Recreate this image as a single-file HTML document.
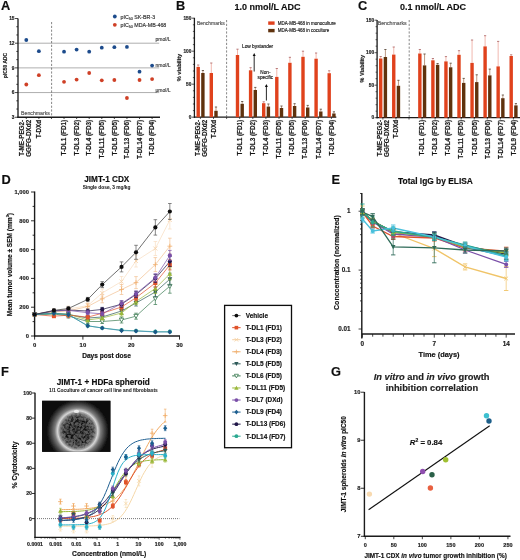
<!DOCTYPE html>
<html><head><meta charset="utf-8"><style>
html,body{margin:0;padding:0;background:#fff;width:520px;height:560px;overflow:hidden;}
svg{display:block;}
text{font-family:"Liberation Sans", sans-serif;}
</style></head><body>
<svg width="520" height="560" viewBox="0 0 520 560">
<defs><filter id="gblur" x="0" y="0" width="1" height="1"><feGaussianBlur stdDeviation="0.3"/></filter></defs>
<rect width="520" height="560" fill="#fff"/>
<g filter="url(#gblur)">
<text x="1.00" y="9.90" text-anchor="start" fill="#111" style="font-size:12.8px;font-weight:bold;stroke:#111;stroke-width:0.16px;" >A</text>
<line x1="18.00" y1="43.19" x2="159.20" y2="43.19" stroke="#999" stroke-width="0.8" />
<line x1="18.00" y1="67.88" x2="159.20" y2="67.88" stroke="#999" stroke-width="0.8" />
<line x1="18.00" y1="92.57" x2="159.20" y2="92.57" stroke="#999" stroke-width="0.8" />
<text x="170.60" y="41.40" text-anchor="end" fill="#444" style="font-size:5.0px;font-weight:normal;stroke:#444;stroke-width:0.16px;" >pmol/L</text>
<text x="170.60" y="66.70" text-anchor="end" fill="#444" style="font-size:5.0px;font-weight:normal;stroke:#444;stroke-width:0.16px;" >nmol/L</text>
<text x="170.60" y="91.50" text-anchor="end" fill="#444" style="font-size:5.0px;font-weight:normal;stroke:#444;stroke-width:0.16px;" >μmol/L</text>
<line x1="18.00" y1="18.40" x2="18.00" y2="117.90" stroke="#1a1a1a" stroke-width="1.35" />
<line x1="17.40" y1="117.20" x2="160.00" y2="117.20" stroke="#1a1a1a" stroke-width="1.35" />
<line x1="15.00" y1="117.26" x2="18.00" y2="117.26" stroke="#1a1a1a" stroke-width="0.8" />
<line x1="16.30" y1="109.03" x2="18.00" y2="109.03" stroke="#1a1a1a" stroke-width="0.8" />
<line x1="16.30" y1="100.80" x2="18.00" y2="100.80" stroke="#1a1a1a" stroke-width="0.8" />
<line x1="15.00" y1="92.57" x2="18.00" y2="92.57" stroke="#1a1a1a" stroke-width="0.8" />
<line x1="16.30" y1="84.34" x2="18.00" y2="84.34" stroke="#1a1a1a" stroke-width="0.8" />
<line x1="16.30" y1="76.11" x2="18.00" y2="76.11" stroke="#1a1a1a" stroke-width="0.8" />
<line x1="15.00" y1="67.88" x2="18.00" y2="67.88" stroke="#1a1a1a" stroke-width="0.8" />
<line x1="16.30" y1="59.65" x2="18.00" y2="59.65" stroke="#1a1a1a" stroke-width="0.8" />
<line x1="16.30" y1="51.42" x2="18.00" y2="51.42" stroke="#1a1a1a" stroke-width="0.8" />
<line x1="15.00" y1="43.19" x2="18.00" y2="43.19" stroke="#1a1a1a" stroke-width="0.8" />
<line x1="16.30" y1="34.96" x2="18.00" y2="34.96" stroke="#1a1a1a" stroke-width="0.8" />
<line x1="16.30" y1="26.73" x2="18.00" y2="26.73" stroke="#1a1a1a" stroke-width="0.8" />
<line x1="15.00" y1="18.50" x2="18.00" y2="18.50" stroke="#1a1a1a" stroke-width="0.8" />
<text x="14.50" y="20.20" text-anchor="end" fill="#1a1a1a" style="font-size:4.8px;font-weight:bold;stroke:#1a1a1a;stroke-width:0.16px;" >15</text>
<text x="14.50" y="44.89" text-anchor="end" fill="#1a1a1a" style="font-size:4.8px;font-weight:bold;stroke:#1a1a1a;stroke-width:0.16px;" >12</text>
<text x="14.50" y="69.58" text-anchor="end" fill="#1a1a1a" style="font-size:4.8px;font-weight:bold;stroke:#1a1a1a;stroke-width:0.16px;" >9</text>
<text x="14.50" y="94.27" text-anchor="end" fill="#1a1a1a" style="font-size:4.8px;font-weight:bold;stroke:#1a1a1a;stroke-width:0.16px;" >6</text>
<text x="14.50" y="118.96" text-anchor="end" fill="#1a1a1a" style="font-size:4.8px;font-weight:bold;stroke:#1a1a1a;stroke-width:0.16px;" >3</text>
<text transform="translate(7.40,65.50) rotate(-90)" text-anchor="middle" fill="#1a1a1a" style="font-size:4.9px;font-weight:bold;stroke:#1a1a1a;stroke-width:0.16px;" >pIC50 ADC</text>
<line x1="51.60" y1="22.00" x2="51.60" y2="117.20" stroke="#555" stroke-width="0.7" stroke-dasharray="2.2,1.6"/>
<text x="35.50" y="115.30" text-anchor="middle" fill="#555" style="font-size:5.2px;font-weight:normal;stroke:#555;stroke-width:0.16px;" >Benchmarks</text>
<line x1="26.30" y1="117.20" x2="26.30" y2="119.00" stroke="#1a1a1a" stroke-width="0.8" />
<line x1="38.88" y1="117.20" x2="38.88" y2="119.00" stroke="#1a1a1a" stroke-width="0.8" />
<line x1="51.46" y1="117.20" x2="51.46" y2="119.00" stroke="#1a1a1a" stroke-width="0.8" />
<line x1="64.04" y1="117.20" x2="64.04" y2="119.00" stroke="#1a1a1a" stroke-width="0.8" />
<line x1="76.62" y1="117.20" x2="76.62" y2="119.00" stroke="#1a1a1a" stroke-width="0.8" />
<line x1="89.20" y1="117.20" x2="89.20" y2="119.00" stroke="#1a1a1a" stroke-width="0.8" />
<line x1="101.78" y1="117.20" x2="101.78" y2="119.00" stroke="#1a1a1a" stroke-width="0.8" />
<line x1="114.36" y1="117.20" x2="114.36" y2="119.00" stroke="#1a1a1a" stroke-width="0.8" />
<line x1="126.94" y1="117.20" x2="126.94" y2="119.00" stroke="#1a1a1a" stroke-width="0.8" />
<line x1="139.52" y1="117.20" x2="139.52" y2="119.00" stroke="#1a1a1a" stroke-width="0.8" />
<line x1="152.10" y1="117.20" x2="152.10" y2="119.00" stroke="#1a1a1a" stroke-width="0.8" />
<circle cx="26.30" cy="40.00" r="1.9" fill="#1e4c8c" />
<circle cx="26.30" cy="84.50" r="1.9" fill="#cf4128" />
<circle cx="38.88" cy="51.20" r="1.9" fill="#1e4c8c" />
<circle cx="38.88" cy="75.20" r="1.9" fill="#cf4128" />
<circle cx="64.04" cy="51.70" r="1.9" fill="#1e4c8c" />
<circle cx="64.04" cy="81.80" r="1.9" fill="#cf4128" />
<circle cx="76.62" cy="49.60" r="1.9" fill="#1e4c8c" />
<circle cx="76.62" cy="79.60" r="1.9" fill="#cf4128" />
<circle cx="89.20" cy="51.70" r="1.9" fill="#1e4c8c" />
<circle cx="89.20" cy="73.00" r="1.9" fill="#cf4128" />
<circle cx="101.78" cy="47.70" r="1.9" fill="#1e4c8c" />
<circle cx="101.78" cy="80.30" r="1.9" fill="#cf4128" />
<circle cx="114.36" cy="47.20" r="1.9" fill="#1e4c8c" />
<circle cx="114.36" cy="80.00" r="1.9" fill="#cf4128" />
<circle cx="126.94" cy="46.90" r="1.9" fill="#1e4c8c" />
<circle cx="126.94" cy="98.00" r="1.9" fill="#cf4128" />
<circle cx="139.52" cy="71.70" r="1.9" fill="#1e4c8c" />
<circle cx="139.52" cy="80.00" r="1.9" fill="#cf4128" />
<circle cx="152.10" cy="65.60" r="1.9" fill="#1e4c8c" />
<circle cx="152.10" cy="79.10" r="1.9" fill="#cf4128" />
<circle cx="114.80" cy="16.50" r="1.9" fill="#1e4c8c" />
<circle cx="114.80" cy="24.80" r="1.9" fill="#cf4128" />
<text x="120.60" y="19.00" text-anchor="start" fill="#333" style="font-size:5.3px;font-weight:normal;stroke:#333;stroke-width:0.16px;" >pIC<tspan font-size="3.5" dy="1.1">50</tspan><tspan dy="-1.1"> SK-BR-3</tspan></text>
<text x="120.60" y="27.30" text-anchor="start" fill="#333" style="font-size:5.3px;font-weight:normal;stroke:#333;stroke-width:0.16px;" >pIC<tspan font-size="3.5" dy="1.1">50</tspan><tspan dy="-1.1"> MDA-MB-468</tspan></text>
<text transform="translate(24.36,119.80) rotate(-90)" text-anchor="end" fill="#1a1a1a" style="font-size:6.35px;font-weight:bold;stroke:#1a1a1a;stroke-width:0.16px;" >T-ME-PEG2-</text>
<text transform="translate(31.21,119.80) rotate(-90)" text-anchor="end" fill="#1a1a1a" style="font-size:6.35px;font-weight:bold;stroke:#1a1a1a;stroke-width:0.16px;" >GGFG-DXd2</text>
<text transform="translate(41.17,119.80) rotate(-90)" text-anchor="end" fill="#1a1a1a" style="font-size:6.35px;font-weight:bold;stroke:#1a1a1a;stroke-width:0.16px;" >T-DXd</text>
<text transform="translate(66.33,119.80) rotate(-90)" text-anchor="end" fill="#1a1a1a" style="font-size:6.35px;font-weight:bold;stroke:#1a1a1a;stroke-width:0.16px;" >T-DL1 (FD1)</text>
<text transform="translate(78.91,119.80) rotate(-90)" text-anchor="end" fill="#1a1a1a" style="font-size:6.35px;font-weight:bold;stroke:#1a1a1a;stroke-width:0.16px;" >T-DL3 (FD2)</text>
<text transform="translate(91.49,119.80) rotate(-90)" text-anchor="end" fill="#1a1a1a" style="font-size:6.35px;font-weight:bold;stroke:#1a1a1a;stroke-width:0.16px;" >T-DL4 (FD3)</text>
<text transform="translate(104.07,119.80) rotate(-90)" text-anchor="end" fill="#1a1a1a" style="font-size:6.35px;font-weight:bold;stroke:#1a1a1a;stroke-width:0.16px;" >T-DL11 (FD5)</text>
<text transform="translate(116.65,119.80) rotate(-90)" text-anchor="end" fill="#1a1a1a" style="font-size:6.35px;font-weight:bold;stroke:#1a1a1a;stroke-width:0.16px;" >T-DL5 (FD5)</text>
<text transform="translate(129.23,119.80) rotate(-90)" text-anchor="end" fill="#1a1a1a" style="font-size:6.35px;font-weight:bold;stroke:#1a1a1a;stroke-width:0.16px;" >T-DL13 (FD6)</text>
<text transform="translate(141.81,119.80) rotate(-90)" text-anchor="end" fill="#1a1a1a" style="font-size:6.35px;font-weight:bold;stroke:#1a1a1a;stroke-width:0.16px;" >T-DL14 (FD7)</text>
<text transform="translate(154.39,119.80) rotate(-90)" text-anchor="end" fill="#1a1a1a" style="font-size:6.35px;font-weight:bold;stroke:#1a1a1a;stroke-width:0.16px;" >T-DL9 (FD4)</text>
<line x1="194.40" y1="17.80" x2="194.40" y2="117.80" stroke="#1a1a1a" stroke-width="1.3" />
<line x1="193.80" y1="117.20" x2="336.30" y2="117.20" stroke="#1a1a1a" stroke-width="1.3" />
<line x1="191.80" y1="117.20" x2="194.40" y2="117.20" stroke="#1a1a1a" stroke-width="0.7" />
<line x1="192.90" y1="110.60" x2="194.40" y2="110.60" stroke="#1a1a1a" stroke-width="0.7" />
<line x1="192.90" y1="104.00" x2="194.40" y2="104.00" stroke="#1a1a1a" stroke-width="0.7" />
<line x1="192.90" y1="97.40" x2="194.40" y2="97.40" stroke="#1a1a1a" stroke-width="0.7" />
<line x1="192.90" y1="90.80" x2="194.40" y2="90.80" stroke="#1a1a1a" stroke-width="0.7" />
<line x1="191.80" y1="84.20" x2="194.40" y2="84.20" stroke="#1a1a1a" stroke-width="0.7" />
<line x1="192.90" y1="77.60" x2="194.40" y2="77.60" stroke="#1a1a1a" stroke-width="0.7" />
<line x1="192.90" y1="71.00" x2="194.40" y2="71.00" stroke="#1a1a1a" stroke-width="0.7" />
<line x1="192.90" y1="64.40" x2="194.40" y2="64.40" stroke="#1a1a1a" stroke-width="0.7" />
<line x1="192.90" y1="57.80" x2="194.40" y2="57.80" stroke="#1a1a1a" stroke-width="0.7" />
<line x1="191.80" y1="51.20" x2="194.40" y2="51.20" stroke="#1a1a1a" stroke-width="0.7" />
<line x1="192.90" y1="44.60" x2="194.40" y2="44.60" stroke="#1a1a1a" stroke-width="0.7" />
<line x1="192.90" y1="38.00" x2="194.40" y2="38.00" stroke="#1a1a1a" stroke-width="0.7" />
<line x1="192.90" y1="31.40" x2="194.40" y2="31.40" stroke="#1a1a1a" stroke-width="0.7" />
<line x1="192.90" y1="24.80" x2="194.40" y2="24.80" stroke="#1a1a1a" stroke-width="0.7" />
<line x1="191.80" y1="18.20" x2="194.40" y2="18.20" stroke="#1a1a1a" stroke-width="0.7" />
<text x="191.40" y="118.95" text-anchor="end" fill="#1a1a1a" style="font-size:4.8px;font-weight:bold;stroke:#1a1a1a;stroke-width:0.16px;" >0</text>
<text x="191.40" y="85.95" text-anchor="end" fill="#1a1a1a" style="font-size:4.8px;font-weight:bold;stroke:#1a1a1a;stroke-width:0.16px;" >50</text>
<text x="191.40" y="52.95" text-anchor="end" fill="#1a1a1a" style="font-size:4.8px;font-weight:bold;stroke:#1a1a1a;stroke-width:0.16px;" >100</text>
<text x="191.40" y="19.95" text-anchor="end" fill="#1a1a1a" style="font-size:4.8px;font-weight:bold;stroke:#1a1a1a;stroke-width:0.16px;" >150</text>
<line x1="200.40" y1="117.20" x2="200.40" y2="119.00" stroke="#1a1a1a" stroke-width="0.7" />
<line x1="213.50" y1="117.20" x2="213.50" y2="119.00" stroke="#1a1a1a" stroke-width="0.7" />
<line x1="226.60" y1="117.20" x2="226.60" y2="119.00" stroke="#1a1a1a" stroke-width="0.7" />
<line x1="239.70" y1="117.20" x2="239.70" y2="119.00" stroke="#1a1a1a" stroke-width="0.7" />
<line x1="252.80" y1="117.20" x2="252.80" y2="119.00" stroke="#1a1a1a" stroke-width="0.7" />
<line x1="265.90" y1="117.20" x2="265.90" y2="119.00" stroke="#1a1a1a" stroke-width="0.7" />
<line x1="279.00" y1="117.20" x2="279.00" y2="119.00" stroke="#1a1a1a" stroke-width="0.7" />
<line x1="292.10" y1="117.20" x2="292.10" y2="119.00" stroke="#1a1a1a" stroke-width="0.7" />
<line x1="305.20" y1="117.20" x2="305.20" y2="119.00" stroke="#1a1a1a" stroke-width="0.7" />
<line x1="318.30" y1="117.20" x2="318.30" y2="119.00" stroke="#1a1a1a" stroke-width="0.7" />
<line x1="331.40" y1="117.20" x2="331.40" y2="119.00" stroke="#1a1a1a" stroke-width="0.7" />
<line x1="198.20" y1="66.90" x2="198.20" y2="65.00" stroke="#eb9a8c" stroke-width="0.7" />
<line x1="197.10" y1="65.00" x2="199.30" y2="65.00" stroke="#a86060" stroke-width="0.8" />
<rect x="196.50" y="66.90" width="3.40" height="50.30" fill="#e0421f" />
<line x1="202.90" y1="73.00" x2="202.90" y2="70.50" stroke="#a07050" stroke-width="0.7" />
<line x1="201.80" y1="70.50" x2="204.00" y2="70.50" stroke="#504030" stroke-width="0.8" />
<rect x="201.20" y="73.00" width="3.40" height="44.20" fill="#5e3010" />
<line x1="211.30" y1="73.00" x2="211.30" y2="63.00" stroke="#eb9a8c" stroke-width="0.7" />
<line x1="210.20" y1="63.00" x2="212.40" y2="63.00" stroke="#a86060" stroke-width="0.8" />
<rect x="209.60" y="73.00" width="3.40" height="44.20" fill="#e0421f" />
<line x1="216.00" y1="110.80" x2="216.00" y2="107.00" stroke="#a07050" stroke-width="0.7" />
<line x1="214.90" y1="107.00" x2="217.10" y2="107.00" stroke="#504030" stroke-width="0.8" />
<rect x="214.30" y="110.80" width="3.40" height="6.40" fill="#5e3010" />
<line x1="237.50" y1="55.00" x2="237.50" y2="49.20" stroke="#eb9a8c" stroke-width="0.7" />
<line x1="236.40" y1="49.20" x2="238.60" y2="49.20" stroke="#a86060" stroke-width="0.8" />
<rect x="235.80" y="55.00" width="3.40" height="62.20" fill="#e0421f" />
<line x1="242.20" y1="103.80" x2="242.20" y2="101.50" stroke="#a07050" stroke-width="0.7" />
<line x1="241.10" y1="101.50" x2="243.30" y2="101.50" stroke="#504030" stroke-width="0.8" />
<rect x="240.50" y="103.80" width="3.40" height="13.40" fill="#5e3010" />
<line x1="250.60" y1="70.30" x2="250.60" y2="67.70" stroke="#eb9a8c" stroke-width="0.7" />
<line x1="249.50" y1="67.70" x2="251.70" y2="67.70" stroke="#a86060" stroke-width="0.8" />
<rect x="248.90" y="70.30" width="3.40" height="46.90" fill="#e0421f" />
<line x1="255.30" y1="90.00" x2="255.30" y2="87.40" stroke="#a07050" stroke-width="0.7" />
<line x1="254.20" y1="87.40" x2="256.40" y2="87.40" stroke="#504030" stroke-width="0.8" />
<rect x="253.60" y="90.00" width="3.40" height="27.20" fill="#5e3010" />
<line x1="263.70" y1="103.20" x2="263.70" y2="101.80" stroke="#eb9a8c" stroke-width="0.7" />
<line x1="262.60" y1="101.80" x2="264.80" y2="101.80" stroke="#a86060" stroke-width="0.8" />
<rect x="262.00" y="103.20" width="3.40" height="14.00" fill="#e0421f" />
<line x1="268.40" y1="106.60" x2="268.40" y2="104.00" stroke="#a07050" stroke-width="0.7" />
<line x1="267.30" y1="104.00" x2="269.50" y2="104.00" stroke="#504030" stroke-width="0.8" />
<rect x="266.70" y="106.60" width="3.40" height="10.60" fill="#5e3010" />
<line x1="276.80" y1="76.90" x2="276.80" y2="68.50" stroke="#eb9a8c" stroke-width="0.7" />
<line x1="275.70" y1="68.50" x2="277.90" y2="68.50" stroke="#a86060" stroke-width="0.8" />
<rect x="275.10" y="76.90" width="3.40" height="40.30" fill="#e0421f" />
<line x1="281.50" y1="108.00" x2="281.50" y2="106.00" stroke="#a07050" stroke-width="0.7" />
<line x1="280.40" y1="106.00" x2="282.60" y2="106.00" stroke="#504030" stroke-width="0.8" />
<rect x="279.80" y="108.00" width="3.40" height="9.20" fill="#5e3010" />
<line x1="289.90" y1="62.80" x2="289.90" y2="57.30" stroke="#eb9a8c" stroke-width="0.7" />
<line x1="288.80" y1="57.30" x2="291.00" y2="57.30" stroke="#a86060" stroke-width="0.8" />
<rect x="288.20" y="62.80" width="3.40" height="54.40" fill="#e0421f" />
<line x1="294.60" y1="106.00" x2="294.60" y2="103.70" stroke="#a07050" stroke-width="0.7" />
<line x1="293.50" y1="103.70" x2="295.70" y2="103.70" stroke="#504030" stroke-width="0.8" />
<rect x="292.90" y="106.00" width="3.40" height="11.20" fill="#5e3010" />
<line x1="303.00" y1="56.80" x2="303.00" y2="51.20" stroke="#eb9a8c" stroke-width="0.7" />
<line x1="301.90" y1="51.20" x2="304.10" y2="51.20" stroke="#a86060" stroke-width="0.8" />
<rect x="301.30" y="56.80" width="3.40" height="60.40" fill="#e0421f" />
<line x1="307.70" y1="107.50" x2="307.70" y2="105.40" stroke="#a07050" stroke-width="0.7" />
<line x1="306.60" y1="105.40" x2="308.80" y2="105.40" stroke="#504030" stroke-width="0.8" />
<rect x="306.00" y="107.50" width="3.40" height="9.70" fill="#5e3010" />
<line x1="316.10" y1="58.70" x2="316.10" y2="53.00" stroke="#eb9a8c" stroke-width="0.7" />
<line x1="315.00" y1="53.00" x2="317.20" y2="53.00" stroke="#a86060" stroke-width="0.8" />
<rect x="314.40" y="58.70" width="3.40" height="58.50" fill="#e0421f" />
<line x1="320.80" y1="111.50" x2="320.80" y2="109.20" stroke="#a07050" stroke-width="0.7" />
<line x1="319.70" y1="109.20" x2="321.90" y2="109.20" stroke="#504030" stroke-width="0.8" />
<rect x="319.10" y="111.50" width="3.40" height="5.70" fill="#5e3010" />
<line x1="329.20" y1="73.20" x2="329.20" y2="70.80" stroke="#eb9a8c" stroke-width="0.7" />
<line x1="328.10" y1="70.80" x2="330.30" y2="70.80" stroke="#a86060" stroke-width="0.8" />
<rect x="327.50" y="73.20" width="3.40" height="44.00" fill="#e0421f" />
<line x1="333.90" y1="113.50" x2="333.90" y2="111.80" stroke="#a07050" stroke-width="0.7" />
<line x1="332.80" y1="111.80" x2="335.00" y2="111.80" stroke="#504030" stroke-width="0.8" />
<rect x="332.20" y="113.50" width="3.40" height="3.70" fill="#5e3010" />
<text x="176.00" y="9.90" text-anchor="start" fill="#111" style="font-size:12.8px;font-weight:bold;stroke:#111;stroke-width:0.16px;" >B</text>
<text x="267.40" y="10.20" text-anchor="middle" fill="#111" style="font-size:9.0px;font-weight:bold;stroke:#111;stroke-width:0.16px;" >1.0 nmol/L ADC</text>
<line x1="226.60" y1="20.00" x2="226.60" y2="117.00" stroke="#555" stroke-width="0.7" stroke-dasharray="2.2,1.6"/>
<text x="210.80" y="24.80" text-anchor="middle" fill="#555" style="font-size:5.0px;font-weight:normal;stroke:#555;stroke-width:0.16px;" >Benchmarks</text>
<text transform="translate(181.00,67.50) rotate(-90)" text-anchor="middle" fill="#1a1a1a" style="font-size:5.6px;font-weight:bold;stroke:#1a1a1a;stroke-width:0.16px;" >% viability</text>
<rect x="268.20" y="21.40" width="6.40" height="3.40" fill="#e0421f" />
<rect x="268.20" y="28.90" width="6.40" height="3.40" fill="#5e3010" />
<text x="277.80" y="24.50" text-anchor="start" fill="#222" style="font-size:4.5px;font-weight:normal;stroke:#222;stroke-width:0.16px;" >MDA-MB-468 in monoculture</text>
<text x="277.80" y="32.00" text-anchor="start" fill="#222" style="font-size:4.5px;font-weight:normal;stroke:#222;stroke-width:0.16px;" >MDA-MB-468 in coculture</text>
<text x="257.60" y="47.90" text-anchor="middle" fill="#1a1a1a" style="font-size:4.8px;font-weight:normal;stroke:#1a1a1a;stroke-width:0.16px;" >Low bystander</text>
<text x="265.40" y="73.70" text-anchor="middle" fill="#1a1a1a" style="font-size:4.7px;font-weight:normal;stroke:#1a1a1a;stroke-width:0.16px;" >Non-</text>
<text x="265.40" y="79.20" text-anchor="middle" fill="#1a1a1a" style="font-size:4.7px;font-weight:normal;stroke:#1a1a1a;stroke-width:0.16px;" >specific</text>
<line x1="254.20" y1="71.50" x2="254.20" y2="55.50" stroke="#111" stroke-width="0.9" />
<path d="M252.70,56.00 L254.20,53.00 L255.70,56.00 Z" fill="#111"/>
<line x1="266.40" y1="100.50" x2="266.40" y2="86.50" stroke="#111" stroke-width="0.9" />
<path d="M264.90,87.00 L266.40,84.00 L267.90,87.00 Z" fill="#111"/>
<text transform="translate(199.66,119.80) rotate(-90)" text-anchor="end" fill="#1a1a1a" style="font-size:6.35px;font-weight:bold;stroke:#1a1a1a;stroke-width:0.16px;" >T-ME-PEG2-</text>
<text transform="translate(206.52,119.80) rotate(-90)" text-anchor="end" fill="#1a1a1a" style="font-size:6.35px;font-weight:bold;stroke:#1a1a1a;stroke-width:0.16px;" >GGFG-DXd2</text>
<text transform="translate(215.79,119.80) rotate(-90)" text-anchor="end" fill="#1a1a1a" style="font-size:6.35px;font-weight:bold;stroke:#1a1a1a;stroke-width:0.16px;" >T-DXd</text>
<text transform="translate(241.99,119.80) rotate(-90)" text-anchor="end" fill="#1a1a1a" style="font-size:6.35px;font-weight:bold;stroke:#1a1a1a;stroke-width:0.16px;" >T-DL1 (FD1)</text>
<text transform="translate(255.09,119.80) rotate(-90)" text-anchor="end" fill="#1a1a1a" style="font-size:6.35px;font-weight:bold;stroke:#1a1a1a;stroke-width:0.16px;" >T-DL3 (FD2)</text>
<text transform="translate(268.19,119.80) rotate(-90)" text-anchor="end" fill="#1a1a1a" style="font-size:6.35px;font-weight:bold;stroke:#1a1a1a;stroke-width:0.16px;" >T-DL4 (FD3)</text>
<text transform="translate(281.29,119.80) rotate(-90)" text-anchor="end" fill="#1a1a1a" style="font-size:6.35px;font-weight:bold;stroke:#1a1a1a;stroke-width:0.16px;" >T-DL11 (FD5)</text>
<text transform="translate(294.39,119.80) rotate(-90)" text-anchor="end" fill="#1a1a1a" style="font-size:6.35px;font-weight:bold;stroke:#1a1a1a;stroke-width:0.16px;" >T-DL5 (FD5)</text>
<text transform="translate(307.49,119.80) rotate(-90)" text-anchor="end" fill="#1a1a1a" style="font-size:6.35px;font-weight:bold;stroke:#1a1a1a;stroke-width:0.16px;" >T-DL13 (FD6)</text>
<text transform="translate(320.59,119.80) rotate(-90)" text-anchor="end" fill="#1a1a1a" style="font-size:6.35px;font-weight:bold;stroke:#1a1a1a;stroke-width:0.16px;" >T-DL14 (FD7)</text>
<text transform="translate(333.69,119.80) rotate(-90)" text-anchor="end" fill="#1a1a1a" style="font-size:6.35px;font-weight:bold;stroke:#1a1a1a;stroke-width:0.16px;" >T-DL9 (FD4)</text>
<line x1="377.10" y1="20.00" x2="377.10" y2="118.30" stroke="#1a1a1a" stroke-width="1.3" />
<line x1="376.50" y1="117.70" x2="520.00" y2="117.70" stroke="#1a1a1a" stroke-width="1.3" />
<line x1="374.50" y1="117.70" x2="377.10" y2="117.70" stroke="#1a1a1a" stroke-width="0.7" />
<line x1="375.60" y1="111.20" x2="377.10" y2="111.20" stroke="#1a1a1a" stroke-width="0.7" />
<line x1="375.60" y1="104.70" x2="377.10" y2="104.70" stroke="#1a1a1a" stroke-width="0.7" />
<line x1="375.60" y1="98.20" x2="377.10" y2="98.20" stroke="#1a1a1a" stroke-width="0.7" />
<line x1="375.60" y1="91.70" x2="377.10" y2="91.70" stroke="#1a1a1a" stroke-width="0.7" />
<line x1="374.50" y1="85.20" x2="377.10" y2="85.20" stroke="#1a1a1a" stroke-width="0.7" />
<line x1="375.60" y1="78.70" x2="377.10" y2="78.70" stroke="#1a1a1a" stroke-width="0.7" />
<line x1="375.60" y1="72.20" x2="377.10" y2="72.20" stroke="#1a1a1a" stroke-width="0.7" />
<line x1="375.60" y1="65.70" x2="377.10" y2="65.70" stroke="#1a1a1a" stroke-width="0.7" />
<line x1="375.60" y1="59.20" x2="377.10" y2="59.20" stroke="#1a1a1a" stroke-width="0.7" />
<line x1="374.50" y1="52.70" x2="377.10" y2="52.70" stroke="#1a1a1a" stroke-width="0.7" />
<line x1="375.60" y1="46.20" x2="377.10" y2="46.20" stroke="#1a1a1a" stroke-width="0.7" />
<line x1="375.60" y1="39.70" x2="377.10" y2="39.70" stroke="#1a1a1a" stroke-width="0.7" />
<line x1="375.60" y1="33.20" x2="377.10" y2="33.20" stroke="#1a1a1a" stroke-width="0.7" />
<line x1="375.60" y1="26.70" x2="377.10" y2="26.70" stroke="#1a1a1a" stroke-width="0.7" />
<line x1="374.50" y1="20.20" x2="377.10" y2="20.20" stroke="#1a1a1a" stroke-width="0.7" />
<text x="374.10" y="119.45" text-anchor="end" fill="#1a1a1a" style="font-size:4.8px;font-weight:bold;stroke:#1a1a1a;stroke-width:0.16px;" >0</text>
<text x="374.10" y="86.95" text-anchor="end" fill="#1a1a1a" style="font-size:4.8px;font-weight:bold;stroke:#1a1a1a;stroke-width:0.16px;" >50</text>
<text x="374.10" y="54.45" text-anchor="end" fill="#1a1a1a" style="font-size:4.8px;font-weight:bold;stroke:#1a1a1a;stroke-width:0.16px;" >100</text>
<text x="374.10" y="21.95" text-anchor="end" fill="#1a1a1a" style="font-size:4.8px;font-weight:bold;stroke:#1a1a1a;stroke-width:0.16px;" >150</text>
<line x1="382.90" y1="117.70" x2="382.90" y2="119.50" stroke="#1a1a1a" stroke-width="0.7" />
<line x1="395.95" y1="117.70" x2="395.95" y2="119.50" stroke="#1a1a1a" stroke-width="0.7" />
<line x1="409.00" y1="117.70" x2="409.00" y2="119.50" stroke="#1a1a1a" stroke-width="0.7" />
<line x1="422.05" y1="117.70" x2="422.05" y2="119.50" stroke="#1a1a1a" stroke-width="0.7" />
<line x1="435.10" y1="117.70" x2="435.10" y2="119.50" stroke="#1a1a1a" stroke-width="0.7" />
<line x1="448.15" y1="117.70" x2="448.15" y2="119.50" stroke="#1a1a1a" stroke-width="0.7" />
<line x1="461.20" y1="117.70" x2="461.20" y2="119.50" stroke="#1a1a1a" stroke-width="0.7" />
<line x1="474.25" y1="117.70" x2="474.25" y2="119.50" stroke="#1a1a1a" stroke-width="0.7" />
<line x1="487.30" y1="117.70" x2="487.30" y2="119.50" stroke="#1a1a1a" stroke-width="0.7" />
<line x1="500.35" y1="117.70" x2="500.35" y2="119.50" stroke="#1a1a1a" stroke-width="0.7" />
<line x1="513.40" y1="117.70" x2="513.40" y2="119.50" stroke="#1a1a1a" stroke-width="0.7" />
<line x1="380.70" y1="58.50" x2="380.70" y2="56.50" stroke="#eb9a8c" stroke-width="0.7" />
<line x1="379.60" y1="56.50" x2="381.80" y2="56.50" stroke="#a86060" stroke-width="0.8" />
<rect x="379.00" y="58.50" width="3.40" height="59.20" fill="#e0421f" />
<line x1="385.40" y1="57.00" x2="385.40" y2="49.50" stroke="#a07050" stroke-width="0.7" />
<line x1="384.30" y1="49.50" x2="386.50" y2="49.50" stroke="#504030" stroke-width="0.8" />
<rect x="383.70" y="57.00" width="3.40" height="60.70" fill="#5e3010" />
<line x1="393.75" y1="54.60" x2="393.75" y2="47.00" stroke="#eb9a8c" stroke-width="0.7" />
<line x1="392.65" y1="47.00" x2="394.85" y2="47.00" stroke="#a86060" stroke-width="0.8" />
<rect x="392.05" y="54.60" width="3.40" height="63.10" fill="#e0421f" />
<line x1="398.45" y1="85.80" x2="398.45" y2="80.30" stroke="#a07050" stroke-width="0.7" />
<line x1="397.35" y1="80.30" x2="399.55" y2="80.30" stroke="#504030" stroke-width="0.8" />
<rect x="396.75" y="85.80" width="3.40" height="31.90" fill="#5e3010" />
<line x1="419.85" y1="53.50" x2="419.85" y2="49.50" stroke="#eb9a8c" stroke-width="0.7" />
<line x1="418.75" y1="49.50" x2="420.95" y2="49.50" stroke="#a86060" stroke-width="0.8" />
<rect x="418.15" y="53.50" width="3.40" height="64.20" fill="#e0421f" />
<line x1="424.55" y1="65.40" x2="424.55" y2="54.00" stroke="#a07050" stroke-width="0.7" />
<line x1="423.45" y1="54.00" x2="425.65" y2="54.00" stroke="#504030" stroke-width="0.8" />
<rect x="422.85" y="65.40" width="3.40" height="52.30" fill="#5e3010" />
<line x1="432.90" y1="60.30" x2="432.90" y2="58.50" stroke="#eb9a8c" stroke-width="0.7" />
<line x1="431.80" y1="58.50" x2="434.00" y2="58.50" stroke="#a86060" stroke-width="0.8" />
<rect x="431.20" y="60.30" width="3.40" height="57.40" fill="#e0421f" />
<line x1="437.60" y1="64.80" x2="437.60" y2="63.50" stroke="#a07050" stroke-width="0.7" />
<line x1="436.50" y1="63.50" x2="438.70" y2="63.50" stroke="#504030" stroke-width="0.8" />
<rect x="435.90" y="64.80" width="3.40" height="52.90" fill="#5e3010" />
<line x1="445.95" y1="61.40" x2="445.95" y2="56.60" stroke="#eb9a8c" stroke-width="0.7" />
<line x1="444.85" y1="56.60" x2="447.05" y2="56.60" stroke="#a86060" stroke-width="0.8" />
<rect x="444.25" y="61.40" width="3.40" height="56.30" fill="#e0421f" />
<line x1="450.65" y1="67.30" x2="450.65" y2="63.20" stroke="#a07050" stroke-width="0.7" />
<line x1="449.55" y1="63.20" x2="451.75" y2="63.20" stroke="#504030" stroke-width="0.8" />
<rect x="448.95" y="67.30" width="3.40" height="50.40" fill="#5e3010" />
<line x1="459.00" y1="54.80" x2="459.00" y2="50.70" stroke="#eb9a8c" stroke-width="0.7" />
<line x1="457.90" y1="50.70" x2="460.10" y2="50.70" stroke="#a86060" stroke-width="0.8" />
<rect x="457.30" y="54.80" width="3.40" height="62.90" fill="#e0421f" />
<line x1="463.70" y1="82.90" x2="463.70" y2="78.40" stroke="#a07050" stroke-width="0.7" />
<line x1="462.60" y1="78.40" x2="464.80" y2="78.40" stroke="#504030" stroke-width="0.8" />
<rect x="462.00" y="82.90" width="3.40" height="34.80" fill="#5e3010" />
<line x1="472.05" y1="62.90" x2="472.05" y2="40.00" stroke="#eb9a8c" stroke-width="0.7" />
<line x1="470.95" y1="40.00" x2="473.15" y2="40.00" stroke="#a86060" stroke-width="0.8" />
<rect x="470.35" y="62.90" width="3.40" height="54.80" fill="#e0421f" />
<line x1="476.75" y1="82.10" x2="476.75" y2="74.80" stroke="#a07050" stroke-width="0.7" />
<line x1="475.65" y1="74.80" x2="477.85" y2="74.80" stroke="#504030" stroke-width="0.8" />
<rect x="475.05" y="82.10" width="3.40" height="35.60" fill="#5e3010" />
<line x1="485.10" y1="46.40" x2="485.10" y2="35.70" stroke="#eb9a8c" stroke-width="0.7" />
<line x1="484.00" y1="35.70" x2="486.20" y2="35.70" stroke="#a86060" stroke-width="0.8" />
<rect x="483.40" y="46.40" width="3.40" height="71.30" fill="#e0421f" />
<line x1="489.80" y1="75.40" x2="489.80" y2="69.10" stroke="#a07050" stroke-width="0.7" />
<line x1="488.70" y1="69.10" x2="490.90" y2="69.10" stroke="#504030" stroke-width="0.8" />
<rect x="488.10" y="75.40" width="3.40" height="42.30" fill="#5e3010" />
<line x1="498.15" y1="66.40" x2="498.15" y2="41.40" stroke="#eb9a8c" stroke-width="0.7" />
<line x1="497.05" y1="41.40" x2="499.25" y2="41.40" stroke="#a86060" stroke-width="0.8" />
<rect x="496.45" y="66.40" width="3.40" height="51.30" fill="#e0421f" />
<line x1="502.85" y1="98.20" x2="502.85" y2="95.00" stroke="#a07050" stroke-width="0.7" />
<line x1="501.75" y1="95.00" x2="503.95" y2="95.00" stroke="#504030" stroke-width="0.8" />
<rect x="501.15" y="98.20" width="3.40" height="19.50" fill="#5e3010" />
<line x1="511.20" y1="56.00" x2="511.20" y2="54.80" stroke="#eb9a8c" stroke-width="0.7" />
<line x1="510.10" y1="54.80" x2="512.30" y2="54.80" stroke="#a86060" stroke-width="0.8" />
<rect x="509.50" y="56.00" width="3.40" height="61.70" fill="#e0421f" />
<line x1="515.90" y1="105.40" x2="515.90" y2="103.60" stroke="#a07050" stroke-width="0.7" />
<line x1="514.80" y1="103.60" x2="517.00" y2="103.60" stroke="#504030" stroke-width="0.8" />
<rect x="514.20" y="105.40" width="3.40" height="12.30" fill="#5e3010" />
<text x="358.00" y="10.20" text-anchor="start" fill="#111" style="font-size:12.8px;font-weight:bold;stroke:#111;stroke-width:0.16px;" >C</text>
<text x="433.00" y="10.10" text-anchor="middle" fill="#111" style="font-size:9.0px;font-weight:bold;stroke:#111;stroke-width:0.16px;" >0.1 nmol/L ADC</text>
<line x1="409.20" y1="20.00" x2="409.20" y2="118.00" stroke="#555" stroke-width="0.7" stroke-dasharray="2.2,1.6"/>
<text x="392.20" y="25.00" text-anchor="middle" fill="#555" style="font-size:5.2px;font-weight:normal;stroke:#555;stroke-width:0.16px;" >Benchmarks</text>
<text transform="translate(363.80,68.70) rotate(-90)" text-anchor="middle" fill="#1a1a1a" style="font-size:5.5px;font-weight:bold;stroke:#1a1a1a;stroke-width:0.16px;" >% Viability</text>
<text transform="translate(381.86,119.90) rotate(-90)" text-anchor="end" fill="#1a1a1a" style="font-size:6.35px;font-weight:bold;stroke:#1a1a1a;stroke-width:0.16px;" >T-ME-PEG2-</text>
<text transform="translate(388.71,119.90) rotate(-90)" text-anchor="end" fill="#1a1a1a" style="font-size:6.35px;font-weight:bold;stroke:#1a1a1a;stroke-width:0.16px;" >GGFG-DXd2</text>
<text transform="translate(398.24,119.90) rotate(-90)" text-anchor="end" fill="#1a1a1a" style="font-size:6.35px;font-weight:bold;stroke:#1a1a1a;stroke-width:0.16px;" >T-DXd</text>
<text transform="translate(424.34,119.90) rotate(-90)" text-anchor="end" fill="#1a1a1a" style="font-size:6.35px;font-weight:bold;stroke:#1a1a1a;stroke-width:0.16px;" >T-DL1 (FD1)</text>
<text transform="translate(437.39,119.90) rotate(-90)" text-anchor="end" fill="#1a1a1a" style="font-size:6.35px;font-weight:bold;stroke:#1a1a1a;stroke-width:0.16px;" >T-DL3 (FD2)</text>
<text transform="translate(450.44,119.90) rotate(-90)" text-anchor="end" fill="#1a1a1a" style="font-size:6.35px;font-weight:bold;stroke:#1a1a1a;stroke-width:0.16px;" >T-DL4 (FD3)</text>
<text transform="translate(463.49,119.90) rotate(-90)" text-anchor="end" fill="#1a1a1a" style="font-size:6.35px;font-weight:bold;stroke:#1a1a1a;stroke-width:0.16px;" >T-DL11 (FD5)</text>
<text transform="translate(476.54,119.90) rotate(-90)" text-anchor="end" fill="#1a1a1a" style="font-size:6.35px;font-weight:bold;stroke:#1a1a1a;stroke-width:0.16px;" >T-DL5 (FD5)</text>
<text transform="translate(489.59,119.90) rotate(-90)" text-anchor="end" fill="#1a1a1a" style="font-size:6.35px;font-weight:bold;stroke:#1a1a1a;stroke-width:0.16px;" >T-DL13 (FD6)</text>
<text transform="translate(502.64,119.90) rotate(-90)" text-anchor="end" fill="#1a1a1a" style="font-size:6.35px;font-weight:bold;stroke:#1a1a1a;stroke-width:0.16px;" >T-DL14 (FD7)</text>
<text transform="translate(515.69,119.90) rotate(-90)" text-anchor="end" fill="#1a1a1a" style="font-size:6.35px;font-weight:bold;stroke:#1a1a1a;stroke-width:0.16px;" >T-DL9 (FD4)</text>
<text x="1.50" y="184.00" text-anchor="start" fill="#111" style="font-size:12.8px;font-weight:bold;stroke:#111;stroke-width:0.16px;" >D</text>
<text x="106.80" y="182.20" text-anchor="middle" fill="#111" style="font-size:8.2px;font-weight:bold;stroke:#111;stroke-width:0.16px;" >JIMT-1 CDX</text>
<text x="106.50" y="189.00" text-anchor="middle" fill="#1a1a1a" style="font-size:4.8px;font-weight:bold;stroke:#1a1a1a;stroke-width:0.05px;" >Single dose, 3 mg/kg</text>
<line x1="34.60" y1="191.50" x2="34.60" y2="336.60" stroke="#1a1a1a" stroke-width="1.4" />
<line x1="34.00" y1="336.00" x2="180.00" y2="336.00" stroke="#1a1a1a" stroke-width="1.4" />
<line x1="31.00" y1="336.00" x2="34.60" y2="336.00" stroke="#1a1a1a" stroke-width="0.9" />
<line x1="32.60" y1="321.60" x2="34.60" y2="321.60" stroke="#1a1a1a" stroke-width="0.9" />
<line x1="31.00" y1="307.20" x2="34.60" y2="307.20" stroke="#1a1a1a" stroke-width="0.9" />
<line x1="32.60" y1="292.80" x2="34.60" y2="292.80" stroke="#1a1a1a" stroke-width="0.9" />
<line x1="31.00" y1="278.40" x2="34.60" y2="278.40" stroke="#1a1a1a" stroke-width="0.9" />
<line x1="32.60" y1="264.00" x2="34.60" y2="264.00" stroke="#1a1a1a" stroke-width="0.9" />
<line x1="31.00" y1="249.60" x2="34.60" y2="249.60" stroke="#1a1a1a" stroke-width="0.9" />
<line x1="32.60" y1="235.20" x2="34.60" y2="235.20" stroke="#1a1a1a" stroke-width="0.9" />
<line x1="31.00" y1="220.80" x2="34.60" y2="220.80" stroke="#1a1a1a" stroke-width="0.9" />
<line x1="32.60" y1="206.40" x2="34.60" y2="206.40" stroke="#1a1a1a" stroke-width="0.9" />
<line x1="31.00" y1="192.00" x2="34.60" y2="192.00" stroke="#1a1a1a" stroke-width="0.9" />
<text x="28.90" y="338.00" text-anchor="end" fill="#1a1a1a" style="font-size:5.75px;font-weight:bold;stroke:#1a1a1a;stroke-width:0.16px;" >0</text>
<text x="28.90" y="309.20" text-anchor="end" fill="#1a1a1a" style="font-size:5.75px;font-weight:bold;stroke:#1a1a1a;stroke-width:0.16px;" >200</text>
<text x="28.90" y="280.40" text-anchor="end" fill="#1a1a1a" style="font-size:5.75px;font-weight:bold;stroke:#1a1a1a;stroke-width:0.16px;" >400</text>
<text x="28.90" y="251.60" text-anchor="end" fill="#1a1a1a" style="font-size:5.75px;font-weight:bold;stroke:#1a1a1a;stroke-width:0.16px;" >600</text>
<text x="28.90" y="222.80" text-anchor="end" fill="#1a1a1a" style="font-size:5.75px;font-weight:bold;stroke:#1a1a1a;stroke-width:0.16px;" >800</text>
<text x="28.90" y="194.00" text-anchor="end" fill="#1a1a1a" style="font-size:5.75px;font-weight:bold;stroke:#1a1a1a;stroke-width:0.16px;" >1,000</text>
<line x1="34.60" y1="336.00" x2="34.60" y2="339.60" stroke="#1a1a1a" stroke-width="0.9" />
<line x1="82.90" y1="336.00" x2="82.90" y2="339.60" stroke="#1a1a1a" stroke-width="0.9" />
<line x1="131.20" y1="336.00" x2="131.20" y2="339.60" stroke="#1a1a1a" stroke-width="0.9" />
<line x1="179.50" y1="336.00" x2="179.50" y2="339.60" stroke="#1a1a1a" stroke-width="0.9" />
<text x="34.60" y="346.80" text-anchor="middle" fill="#1a1a1a" style="font-size:5.9px;font-weight:bold;stroke:#1a1a1a;stroke-width:0.16px;" >0</text>
<text x="82.90" y="346.80" text-anchor="middle" fill="#1a1a1a" style="font-size:5.9px;font-weight:bold;stroke:#1a1a1a;stroke-width:0.16px;" >10</text>
<text x="131.20" y="346.80" text-anchor="middle" fill="#1a1a1a" style="font-size:5.9px;font-weight:bold;stroke:#1a1a1a;stroke-width:0.16px;" >20</text>
<text x="179.50" y="346.80" text-anchor="middle" fill="#1a1a1a" style="font-size:5.9px;font-weight:bold;stroke:#1a1a1a;stroke-width:0.16px;" >30</text>
<text x="106.50" y="358.40" text-anchor="middle" fill="#111" style="font-size:6.6px;font-weight:bold;stroke:#111;stroke-width:0.16px;" >Days post dose</text>
<text transform="translate(11.60,264.60) rotate(-90)" text-anchor="middle" fill="#111" style="font-size:6.55px;font-weight:bold;stroke:#111;stroke-width:0.16px;" >Mean tumor volume ± SEM (mm<tspan font-size="4" dy="-2.2">3</tspan><tspan dy="2.2">)</tspan></text>
<polyline points="34.60,314.50 53.92,311.00 68.41,309.00 87.73,305.60 102.22,293.00 121.54,281.50 136.03,261.00 155.35,248.50 169.84,220.00" fill="none" stroke="#f8dcc0" stroke-width="0.7"/>
<polyline points="34.60,314.50 53.92,312.00 68.41,311.00 87.73,306.50 102.22,298.80 121.54,289.50 136.03,282.60 155.35,264.60 169.84,246.20" fill="none" stroke="#f2c090" stroke-width="0.7"/>
<polyline points="34.60,314.50 53.92,314.00 68.41,316.00 87.73,321.50 102.22,321.50 121.54,320.00 136.03,316.20 155.35,298.50 169.84,286.20" fill="none" stroke="#3a7a50" stroke-width="0.7"/>
<polyline points="34.60,314.50 53.92,313.50 68.41,314.50 87.73,318.00 102.22,317.00 121.54,311.00 136.03,303.00 155.35,292.00 169.84,279.20" fill="none" stroke="#2e5a58" stroke-width="0.7"/>
<polyline points="34.60,314.50 53.92,313.50 68.41,314.00 87.73,320.00 102.22,318.00 121.54,313.00 136.03,301.50 155.35,288.50 169.84,273.80" fill="none" stroke="#9ab83a" stroke-width="0.7"/>
<polyline points="34.60,314.50 53.92,316.20 68.41,315.20 87.73,317.10 102.22,313.30 121.54,307.00 136.03,297.70 155.35,283.00 169.84,264.90" fill="none" stroke="#e0522c" stroke-width="0.7"/>
<polyline points="34.60,314.50 53.92,311.00 68.41,310.00 87.73,311.00 102.22,309.40 121.54,304.20 136.03,294.50 155.35,278.50 169.84,261.50" fill="none" stroke="#201848" stroke-width="0.7"/>
<polyline points="34.60,314.50 53.92,310.80 68.41,310.40 87.73,312.70 102.22,313.80 121.54,303.50 136.03,293.80 155.35,277.70 169.84,255.40" fill="none" stroke="#7a4fa8" stroke-width="0.7"/>
<polyline points="34.60,314.50 53.92,313.30 68.41,314.60 87.73,325.80 102.22,328.00 121.54,330.20 136.03,330.80 155.35,331.70 169.84,331.70" fill="none" stroke="#2aa890" stroke-width="0.7"/>
<polyline points="34.60,314.50 53.92,313.30 68.41,314.60 87.73,325.80 102.22,328.00 121.54,330.60 136.03,331.00 155.35,332.00 169.84,332.00" fill="none" stroke="#3a88b0" stroke-width="0.7"/>
<polyline points="34.60,314.50 53.92,310.40 68.41,308.50 87.73,299.40 102.22,284.60 121.54,266.90 136.03,252.30 155.35,227.40 169.84,211.50" fill="none" stroke="#333333" stroke-width="0.7"/>
<path d="M32.60,312.50 L36.60,316.50 M36.60,312.50 L32.60,316.50" stroke="#f5d0a8" stroke-width="0.8"/>
<line x1="53.92" y1="309.00" x2="53.92" y2="313.00" stroke="#f8dcc0" stroke-width="0.7" />
<line x1="52.12" y1="309.00" x2="55.72" y2="309.00" stroke="#f8dcc0" stroke-width="0.7" />
<line x1="52.12" y1="313.00" x2="55.72" y2="313.00" stroke="#f8dcc0" stroke-width="0.7" />
<path d="M51.92,309.00 L55.92,313.00 M55.92,309.00 L51.92,313.00" stroke="#f5d0a8" stroke-width="0.8"/>
<line x1="68.41" y1="306.00" x2="68.41" y2="312.00" stroke="#f8dcc0" stroke-width="0.7" />
<line x1="66.61" y1="306.00" x2="70.21" y2="306.00" stroke="#f8dcc0" stroke-width="0.7" />
<line x1="66.61" y1="312.00" x2="70.21" y2="312.00" stroke="#f8dcc0" stroke-width="0.7" />
<path d="M66.41,307.00 L70.41,311.00 M70.41,307.00 L66.41,311.00" stroke="#f5d0a8" stroke-width="0.8"/>
<line x1="87.73" y1="302.60" x2="87.73" y2="308.60" stroke="#f8dcc0" stroke-width="0.7" />
<line x1="85.93" y1="302.60" x2="89.53" y2="302.60" stroke="#f8dcc0" stroke-width="0.7" />
<line x1="85.93" y1="308.60" x2="89.53" y2="308.60" stroke="#f8dcc0" stroke-width="0.7" />
<path d="M85.73,303.60 L89.73,307.60 M89.73,303.60 L85.73,307.60" stroke="#f5d0a8" stroke-width="0.8"/>
<line x1="102.22" y1="289.00" x2="102.22" y2="297.00" stroke="#f8dcc0" stroke-width="0.7" />
<line x1="100.42" y1="289.00" x2="104.02" y2="289.00" stroke="#f8dcc0" stroke-width="0.7" />
<line x1="100.42" y1="297.00" x2="104.02" y2="297.00" stroke="#f8dcc0" stroke-width="0.7" />
<path d="M100.22,291.00 L104.22,295.00 M104.22,291.00 L100.22,295.00" stroke="#f5d0a8" stroke-width="0.8"/>
<line x1="121.54" y1="276.50" x2="121.54" y2="286.50" stroke="#f8dcc0" stroke-width="0.7" />
<line x1="119.74" y1="276.50" x2="123.34" y2="276.50" stroke="#f8dcc0" stroke-width="0.7" />
<line x1="119.74" y1="286.50" x2="123.34" y2="286.50" stroke="#f8dcc0" stroke-width="0.7" />
<path d="M119.54,279.50 L123.54,283.50 M123.54,279.50 L119.54,283.50" stroke="#f5d0a8" stroke-width="0.8"/>
<line x1="136.03" y1="255.00" x2="136.03" y2="267.00" stroke="#f8dcc0" stroke-width="0.7" />
<line x1="134.23" y1="255.00" x2="137.83" y2="255.00" stroke="#f8dcc0" stroke-width="0.7" />
<line x1="134.23" y1="267.00" x2="137.83" y2="267.00" stroke="#f8dcc0" stroke-width="0.7" />
<path d="M134.03,259.00 L138.03,263.00 M138.03,259.00 L134.03,263.00" stroke="#f5d0a8" stroke-width="0.8"/>
<line x1="155.35" y1="241.50" x2="155.35" y2="255.50" stroke="#f8dcc0" stroke-width="0.7" />
<line x1="153.55" y1="241.50" x2="157.15" y2="241.50" stroke="#f8dcc0" stroke-width="0.7" />
<line x1="153.55" y1="255.50" x2="157.15" y2="255.50" stroke="#f8dcc0" stroke-width="0.7" />
<path d="M153.35,246.50 L157.35,250.50 M157.35,246.50 L153.35,250.50" stroke="#f5d0a8" stroke-width="0.8"/>
<line x1="169.84" y1="211.00" x2="169.84" y2="229.00" stroke="#f8dcc0" stroke-width="0.7" />
<line x1="168.04" y1="211.00" x2="171.64" y2="211.00" stroke="#f8dcc0" stroke-width="0.7" />
<line x1="168.04" y1="229.00" x2="171.64" y2="229.00" stroke="#f8dcc0" stroke-width="0.7" />
<path d="M167.84,218.00 L171.84,222.00 M171.84,218.00 L167.84,222.00" stroke="#f5d0a8" stroke-width="0.8"/>
<path d="M32.20,314.50 L37.00,314.50 M34.60,312.10 L34.60,316.90" stroke="#f0b070" stroke-width="0.8"/>
<line x1="53.92" y1="310.00" x2="53.92" y2="314.00" stroke="#f2c090" stroke-width="0.7" />
<line x1="52.12" y1="310.00" x2="55.72" y2="310.00" stroke="#f2c090" stroke-width="0.7" />
<line x1="52.12" y1="314.00" x2="55.72" y2="314.00" stroke="#f2c090" stroke-width="0.7" />
<path d="M51.52,312.00 L56.32,312.00 M53.92,309.60 L53.92,314.40" stroke="#f0b070" stroke-width="0.8"/>
<line x1="68.41" y1="308.00" x2="68.41" y2="314.00" stroke="#f2c090" stroke-width="0.7" />
<line x1="66.61" y1="308.00" x2="70.21" y2="308.00" stroke="#f2c090" stroke-width="0.7" />
<line x1="66.61" y1="314.00" x2="70.21" y2="314.00" stroke="#f2c090" stroke-width="0.7" />
<path d="M66.01,311.00 L70.81,311.00 M68.41,308.60 L68.41,313.40" stroke="#f0b070" stroke-width="0.8"/>
<line x1="87.73" y1="303.50" x2="87.73" y2="309.50" stroke="#f2c090" stroke-width="0.7" />
<line x1="85.93" y1="303.50" x2="89.53" y2="303.50" stroke="#f2c090" stroke-width="0.7" />
<line x1="85.93" y1="309.50" x2="89.53" y2="309.50" stroke="#f2c090" stroke-width="0.7" />
<path d="M85.33,306.50 L90.13,306.50 M87.73,304.10 L87.73,308.90" stroke="#f0b070" stroke-width="0.8"/>
<line x1="102.22" y1="294.80" x2="102.22" y2="302.80" stroke="#f2c090" stroke-width="0.7" />
<line x1="100.42" y1="294.80" x2="104.02" y2="294.80" stroke="#f2c090" stroke-width="0.7" />
<line x1="100.42" y1="302.80" x2="104.02" y2="302.80" stroke="#f2c090" stroke-width="0.7" />
<path d="M99.82,298.80 L104.62,298.80 M102.22,296.40 L102.22,301.20" stroke="#f0b070" stroke-width="0.8"/>
<line x1="121.54" y1="284.50" x2="121.54" y2="294.50" stroke="#f2c090" stroke-width="0.7" />
<line x1="119.74" y1="284.50" x2="123.34" y2="284.50" stroke="#f2c090" stroke-width="0.7" />
<line x1="119.74" y1="294.50" x2="123.34" y2="294.50" stroke="#f2c090" stroke-width="0.7" />
<path d="M119.14,289.50 L123.94,289.50 M121.54,287.10 L121.54,291.90" stroke="#f0b070" stroke-width="0.8"/>
<line x1="136.03" y1="276.60" x2="136.03" y2="288.60" stroke="#f2c090" stroke-width="0.7" />
<line x1="134.23" y1="276.60" x2="137.83" y2="276.60" stroke="#f2c090" stroke-width="0.7" />
<line x1="134.23" y1="288.60" x2="137.83" y2="288.60" stroke="#f2c090" stroke-width="0.7" />
<path d="M133.63,282.60 L138.43,282.60 M136.03,280.20 L136.03,285.00" stroke="#f0b070" stroke-width="0.8"/>
<line x1="155.35" y1="257.60" x2="155.35" y2="271.60" stroke="#f2c090" stroke-width="0.7" />
<line x1="153.55" y1="257.60" x2="157.15" y2="257.60" stroke="#f2c090" stroke-width="0.7" />
<line x1="153.55" y1="271.60" x2="157.15" y2="271.60" stroke="#f2c090" stroke-width="0.7" />
<path d="M152.95,264.60 L157.75,264.60 M155.35,262.20 L155.35,267.00" stroke="#f0b070" stroke-width="0.8"/>
<line x1="169.84" y1="238.20" x2="169.84" y2="254.20" stroke="#f2c090" stroke-width="0.7" />
<line x1="168.04" y1="238.20" x2="171.64" y2="238.20" stroke="#f2c090" stroke-width="0.7" />
<line x1="168.04" y1="254.20" x2="171.64" y2="254.20" stroke="#f2c090" stroke-width="0.7" />
<path d="M167.44,246.20 L172.24,246.20 M169.84,243.80 L169.84,248.60" stroke="#f0b070" stroke-width="0.8"/>
<path d="M32.40,312.70 L36.80,312.70 L34.60,316.70 Z" fill="#fff" stroke="#3a7a50" stroke-width="0.8"/>
<path d="M51.72,312.20 L56.12,312.20 L53.92,316.20 Z" fill="#fff" stroke="#3a7a50" stroke-width="0.8"/>
<line x1="68.41" y1="314.00" x2="68.41" y2="318.00" stroke="#3a7a50" stroke-width="0.7" />
<line x1="66.61" y1="314.00" x2="70.21" y2="314.00" stroke="#3a7a50" stroke-width="0.7" />
<line x1="66.61" y1="318.00" x2="70.21" y2="318.00" stroke="#3a7a50" stroke-width="0.7" />
<path d="M66.21,314.20 L70.61,314.20 L68.41,318.20 Z" fill="#fff" stroke="#3a7a50" stroke-width="0.8"/>
<line x1="87.73" y1="319.50" x2="87.73" y2="323.50" stroke="#3a7a50" stroke-width="0.7" />
<line x1="85.93" y1="319.50" x2="89.53" y2="319.50" stroke="#3a7a50" stroke-width="0.7" />
<line x1="85.93" y1="323.50" x2="89.53" y2="323.50" stroke="#3a7a50" stroke-width="0.7" />
<path d="M85.53,319.70 L89.93,319.70 L87.73,323.70 Z" fill="#fff" stroke="#3a7a50" stroke-width="0.8"/>
<line x1="102.22" y1="319.50" x2="102.22" y2="323.50" stroke="#3a7a50" stroke-width="0.7" />
<line x1="100.42" y1="319.50" x2="104.02" y2="319.50" stroke="#3a7a50" stroke-width="0.7" />
<line x1="100.42" y1="323.50" x2="104.02" y2="323.50" stroke="#3a7a50" stroke-width="0.7" />
<path d="M100.02,319.70 L104.42,319.70 L102.22,323.70 Z" fill="#fff" stroke="#3a7a50" stroke-width="0.8"/>
<line x1="121.54" y1="317.00" x2="121.54" y2="323.00" stroke="#3a7a50" stroke-width="0.7" />
<line x1="119.74" y1="317.00" x2="123.34" y2="317.00" stroke="#3a7a50" stroke-width="0.7" />
<line x1="119.74" y1="323.00" x2="123.34" y2="323.00" stroke="#3a7a50" stroke-width="0.7" />
<path d="M119.34,318.20 L123.74,318.20 L121.54,322.20 Z" fill="#fff" stroke="#3a7a50" stroke-width="0.8"/>
<line x1="136.03" y1="313.20" x2="136.03" y2="319.20" stroke="#3a7a50" stroke-width="0.7" />
<line x1="134.23" y1="313.20" x2="137.83" y2="313.20" stroke="#3a7a50" stroke-width="0.7" />
<line x1="134.23" y1="319.20" x2="137.83" y2="319.20" stroke="#3a7a50" stroke-width="0.7" />
<path d="M133.83,314.40 L138.23,314.40 L136.03,318.40 Z" fill="#fff" stroke="#3a7a50" stroke-width="0.8"/>
<line x1="155.35" y1="292.50" x2="155.35" y2="304.50" stroke="#3a7a50" stroke-width="0.7" />
<line x1="153.55" y1="292.50" x2="157.15" y2="292.50" stroke="#3a7a50" stroke-width="0.7" />
<line x1="153.55" y1="304.50" x2="157.15" y2="304.50" stroke="#3a7a50" stroke-width="0.7" />
<path d="M153.15,296.70 L157.55,296.70 L155.35,300.70 Z" fill="#fff" stroke="#3a7a50" stroke-width="0.8"/>
<line x1="169.84" y1="279.20" x2="169.84" y2="293.20" stroke="#3a7a50" stroke-width="0.7" />
<line x1="168.04" y1="279.20" x2="171.64" y2="279.20" stroke="#3a7a50" stroke-width="0.7" />
<line x1="168.04" y1="293.20" x2="171.64" y2="293.20" stroke="#3a7a50" stroke-width="0.7" />
<path d="M167.64,284.40 L172.04,284.40 L169.84,288.40 Z" fill="#fff" stroke="#3a7a50" stroke-width="0.8"/>
<path d="M32.20,312.50 L37.00,312.50 L34.60,316.90 Z" fill="#2e5a58"/>
<path d="M51.52,311.50 L56.32,311.50 L53.92,315.90 Z" fill="#2e5a58"/>
<line x1="68.41" y1="312.50" x2="68.41" y2="316.50" stroke="#2e5a58" stroke-width="0.7" />
<line x1="66.61" y1="312.50" x2="70.21" y2="312.50" stroke="#2e5a58" stroke-width="0.7" />
<line x1="66.61" y1="316.50" x2="70.21" y2="316.50" stroke="#2e5a58" stroke-width="0.7" />
<path d="M66.01,312.50 L70.81,312.50 L68.41,316.90 Z" fill="#2e5a58"/>
<line x1="87.73" y1="316.00" x2="87.73" y2="320.00" stroke="#2e5a58" stroke-width="0.7" />
<line x1="85.93" y1="316.00" x2="89.53" y2="316.00" stroke="#2e5a58" stroke-width="0.7" />
<line x1="85.93" y1="320.00" x2="89.53" y2="320.00" stroke="#2e5a58" stroke-width="0.7" />
<path d="M85.33,316.00 L90.13,316.00 L87.73,320.40 Z" fill="#2e5a58"/>
<line x1="102.22" y1="315.00" x2="102.22" y2="319.00" stroke="#2e5a58" stroke-width="0.7" />
<line x1="100.42" y1="315.00" x2="104.02" y2="315.00" stroke="#2e5a58" stroke-width="0.7" />
<line x1="100.42" y1="319.00" x2="104.02" y2="319.00" stroke="#2e5a58" stroke-width="0.7" />
<path d="M99.82,315.00 L104.62,315.00 L102.22,319.40 Z" fill="#2e5a58"/>
<line x1="121.54" y1="308.00" x2="121.54" y2="314.00" stroke="#2e5a58" stroke-width="0.7" />
<line x1="119.74" y1="308.00" x2="123.34" y2="308.00" stroke="#2e5a58" stroke-width="0.7" />
<line x1="119.74" y1="314.00" x2="123.34" y2="314.00" stroke="#2e5a58" stroke-width="0.7" />
<path d="M119.14,309.00 L123.94,309.00 L121.54,313.40 Z" fill="#2e5a58"/>
<line x1="136.03" y1="300.00" x2="136.03" y2="306.00" stroke="#2e5a58" stroke-width="0.7" />
<line x1="134.23" y1="300.00" x2="137.83" y2="300.00" stroke="#2e5a58" stroke-width="0.7" />
<line x1="134.23" y1="306.00" x2="137.83" y2="306.00" stroke="#2e5a58" stroke-width="0.7" />
<path d="M133.63,301.00 L138.43,301.00 L136.03,305.40 Z" fill="#2e5a58"/>
<line x1="155.35" y1="287.00" x2="155.35" y2="297.00" stroke="#2e5a58" stroke-width="0.7" />
<line x1="153.55" y1="287.00" x2="157.15" y2="287.00" stroke="#2e5a58" stroke-width="0.7" />
<line x1="153.55" y1="297.00" x2="157.15" y2="297.00" stroke="#2e5a58" stroke-width="0.7" />
<path d="M152.95,290.00 L157.75,290.00 L155.35,294.40 Z" fill="#2e5a58"/>
<line x1="169.84" y1="273.20" x2="169.84" y2="285.20" stroke="#2e5a58" stroke-width="0.7" />
<line x1="168.04" y1="273.20" x2="171.64" y2="273.20" stroke="#2e5a58" stroke-width="0.7" />
<line x1="168.04" y1="285.20" x2="171.64" y2="285.20" stroke="#2e5a58" stroke-width="0.7" />
<path d="M167.44,277.20 L172.24,277.20 L169.84,281.60 Z" fill="#2e5a58"/>
<path d="M32.20,316.50 L37.00,316.50 L34.60,312.10 Z" fill="#9ab83a"/>
<path d="M51.52,315.50 L56.32,315.50 L53.92,311.10 Z" fill="#9ab83a"/>
<line x1="68.41" y1="312.00" x2="68.41" y2="316.00" stroke="#9ab83a" stroke-width="0.7" />
<line x1="66.61" y1="312.00" x2="70.21" y2="312.00" stroke="#9ab83a" stroke-width="0.7" />
<line x1="66.61" y1="316.00" x2="70.21" y2="316.00" stroke="#9ab83a" stroke-width="0.7" />
<path d="M66.01,316.00 L70.81,316.00 L68.41,311.60 Z" fill="#9ab83a"/>
<line x1="87.73" y1="318.00" x2="87.73" y2="322.00" stroke="#9ab83a" stroke-width="0.7" />
<line x1="85.93" y1="318.00" x2="89.53" y2="318.00" stroke="#9ab83a" stroke-width="0.7" />
<line x1="85.93" y1="322.00" x2="89.53" y2="322.00" stroke="#9ab83a" stroke-width="0.7" />
<path d="M85.33,322.00 L90.13,322.00 L87.73,317.60 Z" fill="#9ab83a"/>
<line x1="102.22" y1="316.00" x2="102.22" y2="320.00" stroke="#9ab83a" stroke-width="0.7" />
<line x1="100.42" y1="316.00" x2="104.02" y2="316.00" stroke="#9ab83a" stroke-width="0.7" />
<line x1="100.42" y1="320.00" x2="104.02" y2="320.00" stroke="#9ab83a" stroke-width="0.7" />
<path d="M99.82,320.00 L104.62,320.00 L102.22,315.60 Z" fill="#9ab83a"/>
<line x1="121.54" y1="310.00" x2="121.54" y2="316.00" stroke="#9ab83a" stroke-width="0.7" />
<line x1="119.74" y1="310.00" x2="123.34" y2="310.00" stroke="#9ab83a" stroke-width="0.7" />
<line x1="119.74" y1="316.00" x2="123.34" y2="316.00" stroke="#9ab83a" stroke-width="0.7" />
<path d="M119.14,315.00 L123.94,315.00 L121.54,310.60 Z" fill="#9ab83a"/>
<line x1="136.03" y1="298.50" x2="136.03" y2="304.50" stroke="#9ab83a" stroke-width="0.7" />
<line x1="134.23" y1="298.50" x2="137.83" y2="298.50" stroke="#9ab83a" stroke-width="0.7" />
<line x1="134.23" y1="304.50" x2="137.83" y2="304.50" stroke="#9ab83a" stroke-width="0.7" />
<path d="M133.63,303.50 L138.43,303.50 L136.03,299.10 Z" fill="#9ab83a"/>
<line x1="155.35" y1="283.50" x2="155.35" y2="293.50" stroke="#9ab83a" stroke-width="0.7" />
<line x1="153.55" y1="283.50" x2="157.15" y2="283.50" stroke="#9ab83a" stroke-width="0.7" />
<line x1="153.55" y1="293.50" x2="157.15" y2="293.50" stroke="#9ab83a" stroke-width="0.7" />
<path d="M152.95,290.50 L157.75,290.50 L155.35,286.10 Z" fill="#9ab83a"/>
<line x1="169.84" y1="267.80" x2="169.84" y2="279.80" stroke="#9ab83a" stroke-width="0.7" />
<line x1="168.04" y1="267.80" x2="171.64" y2="267.80" stroke="#9ab83a" stroke-width="0.7" />
<line x1="168.04" y1="279.80" x2="171.64" y2="279.80" stroke="#9ab83a" stroke-width="0.7" />
<path d="M167.44,275.80 L172.24,275.80 L169.84,271.40 Z" fill="#9ab83a"/>
<rect x="32.60" y="312.50" width="4.00" height="4.00" fill="#e0522c" />
<rect x="51.92" y="314.20" width="4.00" height="4.00" fill="#e0522c" />
<line x1="68.41" y1="313.20" x2="68.41" y2="317.20" stroke="#e0522c" stroke-width="0.7" />
<line x1="66.61" y1="313.20" x2="70.21" y2="313.20" stroke="#e0522c" stroke-width="0.7" />
<line x1="66.61" y1="317.20" x2="70.21" y2="317.20" stroke="#e0522c" stroke-width="0.7" />
<rect x="66.41" y="313.20" width="4.00" height="4.00" fill="#e0522c" />
<line x1="87.73" y1="315.10" x2="87.73" y2="319.10" stroke="#e0522c" stroke-width="0.7" />
<line x1="85.93" y1="315.10" x2="89.53" y2="315.10" stroke="#e0522c" stroke-width="0.7" />
<line x1="85.93" y1="319.10" x2="89.53" y2="319.10" stroke="#e0522c" stroke-width="0.7" />
<rect x="85.73" y="315.10" width="4.00" height="4.00" fill="#e0522c" />
<line x1="102.22" y1="311.30" x2="102.22" y2="315.30" stroke="#e0522c" stroke-width="0.7" />
<line x1="100.42" y1="311.30" x2="104.02" y2="311.30" stroke="#e0522c" stroke-width="0.7" />
<line x1="100.42" y1="315.30" x2="104.02" y2="315.30" stroke="#e0522c" stroke-width="0.7" />
<rect x="100.22" y="311.30" width="4.00" height="4.00" fill="#e0522c" />
<line x1="121.54" y1="304.00" x2="121.54" y2="310.00" stroke="#e0522c" stroke-width="0.7" />
<line x1="119.74" y1="304.00" x2="123.34" y2="304.00" stroke="#e0522c" stroke-width="0.7" />
<line x1="119.74" y1="310.00" x2="123.34" y2="310.00" stroke="#e0522c" stroke-width="0.7" />
<rect x="119.54" y="305.00" width="4.00" height="4.00" fill="#e0522c" />
<line x1="136.03" y1="294.70" x2="136.03" y2="300.70" stroke="#e0522c" stroke-width="0.7" />
<line x1="134.23" y1="294.70" x2="137.83" y2="294.70" stroke="#e0522c" stroke-width="0.7" />
<line x1="134.23" y1="300.70" x2="137.83" y2="300.70" stroke="#e0522c" stroke-width="0.7" />
<rect x="134.03" y="295.70" width="4.00" height="4.00" fill="#e0522c" />
<line x1="155.35" y1="279.00" x2="155.35" y2="287.00" stroke="#e0522c" stroke-width="0.7" />
<line x1="153.55" y1="279.00" x2="157.15" y2="279.00" stroke="#e0522c" stroke-width="0.7" />
<line x1="153.55" y1="287.00" x2="157.15" y2="287.00" stroke="#e0522c" stroke-width="0.7" />
<rect x="153.35" y="281.00" width="4.00" height="4.00" fill="#e0522c" />
<line x1="169.84" y1="259.90" x2="169.84" y2="269.90" stroke="#e0522c" stroke-width="0.7" />
<line x1="168.04" y1="259.90" x2="171.64" y2="259.90" stroke="#e0522c" stroke-width="0.7" />
<line x1="168.04" y1="269.90" x2="171.64" y2="269.90" stroke="#e0522c" stroke-width="0.7" />
<rect x="167.84" y="262.90" width="4.00" height="4.00" fill="#e0522c" />
<circle cx="34.60" cy="314.50" r="2.1" fill="#201848" />
<circle cx="53.92" cy="311.00" r="2.1" fill="#201848" />
<line x1="68.41" y1="308.00" x2="68.41" y2="312.00" stroke="#201848" stroke-width="0.7" />
<line x1="66.61" y1="308.00" x2="70.21" y2="308.00" stroke="#201848" stroke-width="0.7" />
<line x1="66.61" y1="312.00" x2="70.21" y2="312.00" stroke="#201848" stroke-width="0.7" />
<circle cx="68.41" cy="310.00" r="2.1" fill="#201848" />
<line x1="87.73" y1="309.00" x2="87.73" y2="313.00" stroke="#201848" stroke-width="0.7" />
<line x1="85.93" y1="309.00" x2="89.53" y2="309.00" stroke="#201848" stroke-width="0.7" />
<line x1="85.93" y1="313.00" x2="89.53" y2="313.00" stroke="#201848" stroke-width="0.7" />
<circle cx="87.73" cy="311.00" r="2.1" fill="#201848" />
<line x1="102.22" y1="307.40" x2="102.22" y2="311.40" stroke="#201848" stroke-width="0.7" />
<line x1="100.42" y1="307.40" x2="104.02" y2="307.40" stroke="#201848" stroke-width="0.7" />
<line x1="100.42" y1="311.40" x2="104.02" y2="311.40" stroke="#201848" stroke-width="0.7" />
<circle cx="102.22" cy="309.40" r="2.1" fill="#201848" />
<line x1="121.54" y1="301.20" x2="121.54" y2="307.20" stroke="#201848" stroke-width="0.7" />
<line x1="119.74" y1="301.20" x2="123.34" y2="301.20" stroke="#201848" stroke-width="0.7" />
<line x1="119.74" y1="307.20" x2="123.34" y2="307.20" stroke="#201848" stroke-width="0.7" />
<circle cx="121.54" cy="304.20" r="2.1" fill="#201848" />
<line x1="136.03" y1="291.50" x2="136.03" y2="297.50" stroke="#201848" stroke-width="0.7" />
<line x1="134.23" y1="291.50" x2="137.83" y2="291.50" stroke="#201848" stroke-width="0.7" />
<line x1="134.23" y1="297.50" x2="137.83" y2="297.50" stroke="#201848" stroke-width="0.7" />
<circle cx="136.03" cy="294.50" r="2.1" fill="#201848" />
<line x1="155.35" y1="274.50" x2="155.35" y2="282.50" stroke="#201848" stroke-width="0.7" />
<line x1="153.55" y1="274.50" x2="157.15" y2="274.50" stroke="#201848" stroke-width="0.7" />
<line x1="153.55" y1="282.50" x2="157.15" y2="282.50" stroke="#201848" stroke-width="0.7" />
<circle cx="155.35" cy="278.50" r="2.1" fill="#201848" />
<line x1="169.84" y1="256.50" x2="169.84" y2="266.50" stroke="#201848" stroke-width="0.7" />
<line x1="168.04" y1="256.50" x2="171.64" y2="256.50" stroke="#201848" stroke-width="0.7" />
<line x1="168.04" y1="266.50" x2="171.64" y2="266.50" stroke="#201848" stroke-width="0.7" />
<circle cx="169.84" cy="261.50" r="2.1" fill="#201848" />
<circle cx="34.60" cy="314.50" r="2.1" fill="#7a4fa8" />
<circle cx="53.92" cy="310.80" r="2.1" fill="#7a4fa8" />
<line x1="68.41" y1="308.40" x2="68.41" y2="312.40" stroke="#7a4fa8" stroke-width="0.7" />
<line x1="66.61" y1="308.40" x2="70.21" y2="308.40" stroke="#7a4fa8" stroke-width="0.7" />
<line x1="66.61" y1="312.40" x2="70.21" y2="312.40" stroke="#7a4fa8" stroke-width="0.7" />
<circle cx="68.41" cy="310.40" r="2.1" fill="#7a4fa8" />
<line x1="87.73" y1="310.70" x2="87.73" y2="314.70" stroke="#7a4fa8" stroke-width="0.7" />
<line x1="85.93" y1="310.70" x2="89.53" y2="310.70" stroke="#7a4fa8" stroke-width="0.7" />
<line x1="85.93" y1="314.70" x2="89.53" y2="314.70" stroke="#7a4fa8" stroke-width="0.7" />
<circle cx="87.73" cy="312.70" r="2.1" fill="#7a4fa8" />
<line x1="102.22" y1="311.80" x2="102.22" y2="315.80" stroke="#7a4fa8" stroke-width="0.7" />
<line x1="100.42" y1="311.80" x2="104.02" y2="311.80" stroke="#7a4fa8" stroke-width="0.7" />
<line x1="100.42" y1="315.80" x2="104.02" y2="315.80" stroke="#7a4fa8" stroke-width="0.7" />
<circle cx="102.22" cy="313.80" r="2.1" fill="#7a4fa8" />
<line x1="121.54" y1="300.50" x2="121.54" y2="306.50" stroke="#7a4fa8" stroke-width="0.7" />
<line x1="119.74" y1="300.50" x2="123.34" y2="300.50" stroke="#7a4fa8" stroke-width="0.7" />
<line x1="119.74" y1="306.50" x2="123.34" y2="306.50" stroke="#7a4fa8" stroke-width="0.7" />
<circle cx="121.54" cy="303.50" r="2.1" fill="#7a4fa8" />
<line x1="136.03" y1="290.80" x2="136.03" y2="296.80" stroke="#7a4fa8" stroke-width="0.7" />
<line x1="134.23" y1="290.80" x2="137.83" y2="290.80" stroke="#7a4fa8" stroke-width="0.7" />
<line x1="134.23" y1="296.80" x2="137.83" y2="296.80" stroke="#7a4fa8" stroke-width="0.7" />
<circle cx="136.03" cy="293.80" r="2.1" fill="#7a4fa8" />
<line x1="155.35" y1="273.70" x2="155.35" y2="281.70" stroke="#7a4fa8" stroke-width="0.7" />
<line x1="153.55" y1="273.70" x2="157.15" y2="273.70" stroke="#7a4fa8" stroke-width="0.7" />
<line x1="153.55" y1="281.70" x2="157.15" y2="281.70" stroke="#7a4fa8" stroke-width="0.7" />
<circle cx="155.35" cy="277.70" r="2.1" fill="#7a4fa8" />
<line x1="169.84" y1="250.40" x2="169.84" y2="260.40" stroke="#7a4fa8" stroke-width="0.7" />
<line x1="168.04" y1="250.40" x2="171.64" y2="250.40" stroke="#7a4fa8" stroke-width="0.7" />
<line x1="168.04" y1="260.40" x2="171.64" y2="260.40" stroke="#7a4fa8" stroke-width="0.7" />
<circle cx="169.84" cy="255.40" r="2.1" fill="#7a4fa8" />
<circle cx="34.60" cy="314.50" r="2.1" fill="#2aa890" />
<circle cx="53.92" cy="313.30" r="2.1" fill="#2aa890" />
<circle cx="68.41" cy="314.60" r="2.1" fill="#2aa890" />
<circle cx="87.73" cy="325.80" r="2.1" fill="#2aa890" />
<circle cx="102.22" cy="328.00" r="2.1" fill="#2aa890" />
<circle cx="121.54" cy="330.20" r="2.1" fill="#2aa890" />
<circle cx="136.03" cy="330.80" r="2.1" fill="#2aa890" />
<circle cx="155.35" cy="331.70" r="2.1" fill="#2aa890" />
<circle cx="169.84" cy="331.70" r="2.1" fill="#2aa890" />
<path d="M34.60,311.90 L36.80,314.50 L34.60,317.10 L32.40,314.50 Z" fill="#1f5588"/>
<path d="M53.92,310.70 L56.12,313.30 L53.92,315.90 L51.72,313.30 Z" fill="#1f5588"/>
<path d="M68.41,312.00 L70.61,314.60 L68.41,317.20 L66.21,314.60 Z" fill="#1f5588"/>
<path d="M87.73,323.20 L89.93,325.80 L87.73,328.40 L85.53,325.80 Z" fill="#1f5588"/>
<path d="M102.22,325.40 L104.42,328.00 L102.22,330.60 L100.02,328.00 Z" fill="#1f5588"/>
<path d="M121.54,328.00 L123.74,330.60 L121.54,333.20 L119.34,330.60 Z" fill="#1f5588"/>
<path d="M136.03,328.40 L138.23,331.00 L136.03,333.60 L133.83,331.00 Z" fill="#1f5588"/>
<path d="M155.35,329.40 L157.55,332.00 L155.35,334.60 L153.15,332.00 Z" fill="#1f5588"/>
<path d="M169.84,329.40 L172.04,332.00 L169.84,334.60 L167.64,332.00 Z" fill="#1f5588"/>
<circle cx="34.60" cy="314.50" r="2.1" fill="#111111" />
<line x1="53.92" y1="308.90" x2="53.92" y2="311.90" stroke="#555" stroke-width="0.7" />
<line x1="52.12" y1="308.90" x2="55.72" y2="308.90" stroke="#555" stroke-width="0.7" />
<line x1="52.12" y1="311.90" x2="55.72" y2="311.90" stroke="#555" stroke-width="0.7" />
<circle cx="53.92" cy="310.40" r="2.1" fill="#111111" />
<line x1="68.41" y1="306.50" x2="68.41" y2="310.50" stroke="#555" stroke-width="0.7" />
<line x1="66.61" y1="306.50" x2="70.21" y2="306.50" stroke="#555" stroke-width="0.7" />
<line x1="66.61" y1="310.50" x2="70.21" y2="310.50" stroke="#555" stroke-width="0.7" />
<circle cx="68.41" cy="308.50" r="2.1" fill="#111111" />
<line x1="87.73" y1="297.40" x2="87.73" y2="301.40" stroke="#555" stroke-width="0.7" />
<line x1="85.93" y1="297.40" x2="89.53" y2="297.40" stroke="#555" stroke-width="0.7" />
<line x1="85.93" y1="301.40" x2="89.53" y2="301.40" stroke="#555" stroke-width="0.7" />
<circle cx="87.73" cy="299.40" r="2.1" fill="#111111" />
<line x1="102.22" y1="281.60" x2="102.22" y2="287.60" stroke="#555" stroke-width="0.7" />
<line x1="100.42" y1="281.60" x2="104.02" y2="281.60" stroke="#555" stroke-width="0.7" />
<line x1="100.42" y1="287.60" x2="104.02" y2="287.60" stroke="#555" stroke-width="0.7" />
<circle cx="102.22" cy="284.60" r="2.1" fill="#111111" />
<line x1="121.54" y1="261.90" x2="121.54" y2="271.90" stroke="#555" stroke-width="0.7" />
<line x1="119.74" y1="261.90" x2="123.34" y2="261.90" stroke="#555" stroke-width="0.7" />
<line x1="119.74" y1="271.90" x2="123.34" y2="271.90" stroke="#555" stroke-width="0.7" />
<circle cx="121.54" cy="266.90" r="2.1" fill="#111111" />
<line x1="136.03" y1="245.30" x2="136.03" y2="259.30" stroke="#555" stroke-width="0.7" />
<line x1="134.23" y1="245.30" x2="137.83" y2="245.30" stroke="#555" stroke-width="0.7" />
<line x1="134.23" y1="259.30" x2="137.83" y2="259.30" stroke="#555" stroke-width="0.7" />
<circle cx="136.03" cy="252.30" r="2.1" fill="#111111" />
<line x1="155.35" y1="219.70" x2="155.35" y2="235.10" stroke="#555" stroke-width="0.7" />
<line x1="153.55" y1="219.70" x2="157.15" y2="219.70" stroke="#555" stroke-width="0.7" />
<line x1="153.55" y1="235.10" x2="157.15" y2="235.10" stroke="#555" stroke-width="0.7" />
<circle cx="155.35" cy="227.40" r="2.1" fill="#111111" />
<line x1="169.84" y1="203.50" x2="169.84" y2="219.50" stroke="#555" stroke-width="0.7" />
<line x1="168.04" y1="203.50" x2="171.64" y2="203.50" stroke="#555" stroke-width="0.7" />
<line x1="168.04" y1="219.50" x2="171.64" y2="219.50" stroke="#555" stroke-width="0.7" />
<circle cx="169.84" cy="211.50" r="2.1" fill="#111111" />
<rect x="224.60" y="305.40" width="66.90" height="142.30" fill="none" stroke="#111" stroke-width="1.3"/>
<line x1="232.20" y1="315.60" x2="240.60" y2="315.60" stroke="#777" stroke-width="1.0" />
<circle cx="236.40" cy="315.60" r="1.89" fill="#111" />
<text x="245.80" y="317.90" text-anchor="start" fill="#111" style="font-size:6.45px;font-weight:bold;stroke:#111;stroke-width:0.16px;" >Vehicle</text>
<line x1="232.20" y1="327.66" x2="240.60" y2="327.66" stroke="#e0522c" stroke-width="1.0" />
<rect x="234.60" y="325.86" width="3.60" height="3.60" fill="#e0522c" />
<text x="245.80" y="329.96" text-anchor="start" fill="#111" style="font-size:6.45px;font-weight:bold;stroke:#111;stroke-width:0.16px;" >T-DL1 (FD1)</text>
<line x1="232.20" y1="339.72" x2="240.60" y2="339.72" stroke="#f5cfa0" stroke-width="1.0" />
<path d="M234.60,337.92 L238.20,341.52 M238.20,337.92 L234.60,341.52" stroke="#f5cfa0" stroke-width="0.8"/>
<text x="245.80" y="342.02" text-anchor="start" fill="#111" style="font-size:6.45px;font-weight:bold;stroke:#111;stroke-width:0.16px;" >T-DL3 (FD2)</text>
<line x1="232.20" y1="351.78" x2="240.60" y2="351.78" stroke="#f0b070" stroke-width="1.0" />
<path d="M234.24,351.78 L238.56,351.78 M236.40,349.62 L236.40,353.94" stroke="#f0b070" stroke-width="0.8"/>
<text x="245.80" y="354.08" text-anchor="start" fill="#111" style="font-size:6.45px;font-weight:bold;stroke:#111;stroke-width:0.16px;" >T-DL4 (FD3)</text>
<line x1="232.20" y1="363.84" x2="240.60" y2="363.84" stroke="#2e5a58" stroke-width="1.0" />
<path d="M234.24,362.04 L238.56,362.04 L236.40,366.00 Z" fill="#2e5a58"/>
<text x="245.80" y="366.14" text-anchor="start" fill="#111" style="font-size:6.45px;font-weight:bold;stroke:#111;stroke-width:0.16px;" >T-DL5 (FD5)</text>
<line x1="232.20" y1="375.90" x2="240.60" y2="375.90" stroke="#3a7a50" stroke-width="1.0" />
<path d="M234.42,374.28 L238.38,374.28 L236.40,377.88 Z" fill="#fff" stroke="#3a7a50" stroke-width="0.8"/>
<text x="245.80" y="378.20" text-anchor="start" fill="#111" style="font-size:6.45px;font-weight:bold;stroke:#111;stroke-width:0.16px;" >T-DL6 (FD5)</text>
<line x1="232.20" y1="387.96" x2="240.60" y2="387.96" stroke="#9ab83a" stroke-width="1.0" />
<path d="M234.24,389.76 L238.56,389.76 L236.40,385.80 Z" fill="#9ab83a"/>
<text x="245.80" y="390.26" text-anchor="start" fill="#111" style="font-size:6.45px;font-weight:bold;stroke:#111;stroke-width:0.16px;" >T-DL11 (FD5)</text>
<line x1="232.20" y1="400.02" x2="240.60" y2="400.02" stroke="#7a4fa8" stroke-width="1.0" />
<circle cx="236.40" cy="400.02" r="1.89" fill="#7a4fa8" />
<text x="245.80" y="402.32" text-anchor="start" fill="#111" style="font-size:6.45px;font-weight:bold;stroke:#111;stroke-width:0.16px;" >T-DL7 (DXd)</text>
<line x1="232.20" y1="412.08" x2="240.60" y2="412.08" stroke="#1f5f90" stroke-width="1.0" />
<path d="M236.40,409.74 L238.38,412.08 L236.40,414.42 L234.42,412.08 Z" fill="#1f5f90"/>
<text x="245.80" y="414.38" text-anchor="start" fill="#111" style="font-size:6.45px;font-weight:bold;stroke:#111;stroke-width:0.16px;" >T-DL9 (FD4)</text>
<line x1="232.20" y1="424.14" x2="240.60" y2="424.14" stroke="#201848" stroke-width="1.0" />
<circle cx="236.40" cy="424.14" r="1.89" fill="#201848" />
<text x="245.80" y="426.44" text-anchor="start" fill="#111" style="font-size:6.45px;font-weight:bold;stroke:#111;stroke-width:0.16px;" >T-DL13 (FD6)</text>
<line x1="232.20" y1="436.20" x2="240.60" y2="436.20" stroke="#2aa890" stroke-width="1.0" />
<circle cx="236.40" cy="436.20" r="1.89" fill="#2aa890" />
<text x="245.80" y="438.50" text-anchor="start" fill="#111" style="font-size:6.45px;font-weight:bold;stroke:#111;stroke-width:0.16px;" >T-DL14 (FD7)</text>
<text x="331.40" y="183.70" text-anchor="start" fill="#111" style="font-size:12.8px;font-weight:bold;stroke:#111;stroke-width:0.16px;" >E</text>
<text x="435.50" y="183.60" text-anchor="middle" fill="#111" style="font-size:8.4px;font-weight:bold;stroke:#111;stroke-width:0.16px;" >Total IgG by ELISA</text>
<line x1="361.80" y1="193.00" x2="361.80" y2="338.60" stroke="#1a1a1a" stroke-width="1.4" />
<line x1="362.00" y1="334.00" x2="515.00" y2="334.00" stroke="#1a1a1a" stroke-width="1.4" />
<line x1="358.60" y1="329.00" x2="361.80" y2="329.00" stroke="#1a1a1a" stroke-width="0.8" />
<line x1="360.00" y1="311.27" x2="361.80" y2="311.27" stroke="#1a1a1a" stroke-width="0.8" />
<line x1="360.00" y1="300.90" x2="361.80" y2="300.90" stroke="#1a1a1a" stroke-width="0.8" />
<line x1="360.00" y1="293.54" x2="361.80" y2="293.54" stroke="#1a1a1a" stroke-width="0.8" />
<line x1="360.00" y1="287.83" x2="361.80" y2="287.83" stroke="#1a1a1a" stroke-width="0.8" />
<line x1="360.00" y1="283.17" x2="361.80" y2="283.17" stroke="#1a1a1a" stroke-width="0.8" />
<line x1="360.00" y1="279.22" x2="361.80" y2="279.22" stroke="#1a1a1a" stroke-width="0.8" />
<line x1="360.00" y1="275.81" x2="361.80" y2="275.81" stroke="#1a1a1a" stroke-width="0.8" />
<line x1="360.00" y1="272.80" x2="361.80" y2="272.80" stroke="#1a1a1a" stroke-width="0.8" />
<line x1="358.60" y1="270.10" x2="361.80" y2="270.10" stroke="#1a1a1a" stroke-width="0.8" />
<line x1="360.00" y1="252.37" x2="361.80" y2="252.37" stroke="#1a1a1a" stroke-width="0.8" />
<line x1="360.00" y1="242.00" x2="361.80" y2="242.00" stroke="#1a1a1a" stroke-width="0.8" />
<line x1="360.00" y1="234.64" x2="361.80" y2="234.64" stroke="#1a1a1a" stroke-width="0.8" />
<line x1="360.00" y1="228.93" x2="361.80" y2="228.93" stroke="#1a1a1a" stroke-width="0.8" />
<line x1="360.00" y1="224.27" x2="361.80" y2="224.27" stroke="#1a1a1a" stroke-width="0.8" />
<line x1="360.00" y1="220.32" x2="361.80" y2="220.32" stroke="#1a1a1a" stroke-width="0.8" />
<line x1="360.00" y1="216.91" x2="361.80" y2="216.91" stroke="#1a1a1a" stroke-width="0.8" />
<line x1="360.00" y1="213.90" x2="361.80" y2="213.90" stroke="#1a1a1a" stroke-width="0.8" />
<line x1="358.60" y1="211.20" x2="361.80" y2="211.20" stroke="#1a1a1a" stroke-width="0.8" />
<line x1="360.00" y1="193.47" x2="361.80" y2="193.47" stroke="#1a1a1a" stroke-width="0.8" />
<text x="350.60" y="213.40" text-anchor="end" fill="#1a1a1a" style="font-size:6.3px;font-weight:bold;stroke:#1a1a1a;stroke-width:0.16px;" >1</text>
<text x="350.60" y="272.30" text-anchor="end" fill="#1a1a1a" style="font-size:6.3px;font-weight:bold;stroke:#1a1a1a;stroke-width:0.16px;" >0.1</text>
<text x="350.60" y="331.20" text-anchor="end" fill="#1a1a1a" style="font-size:6.3px;font-weight:bold;stroke:#1a1a1a;stroke-width:0.16px;" >0.01</text>
<line x1="362.40" y1="334.00" x2="362.40" y2="337.60" stroke="#1a1a1a" stroke-width="0.8" />
<line x1="372.67" y1="334.00" x2="372.67" y2="336.70" stroke="#1a1a1a" stroke-width="0.8" />
<line x1="382.94" y1="334.00" x2="382.94" y2="336.70" stroke="#1a1a1a" stroke-width="0.8" />
<line x1="393.21" y1="334.00" x2="393.21" y2="336.70" stroke="#1a1a1a" stroke-width="0.8" />
<line x1="403.48" y1="334.00" x2="403.48" y2="336.70" stroke="#1a1a1a" stroke-width="0.8" />
<line x1="413.75" y1="334.00" x2="413.75" y2="336.70" stroke="#1a1a1a" stroke-width="0.8" />
<line x1="424.02" y1="334.00" x2="424.02" y2="336.70" stroke="#1a1a1a" stroke-width="0.8" />
<line x1="434.29" y1="334.00" x2="434.29" y2="337.60" stroke="#1a1a1a" stroke-width="0.8" />
<line x1="444.56" y1="334.00" x2="444.56" y2="336.70" stroke="#1a1a1a" stroke-width="0.8" />
<line x1="454.83" y1="334.00" x2="454.83" y2="336.70" stroke="#1a1a1a" stroke-width="0.8" />
<line x1="465.10" y1="334.00" x2="465.10" y2="336.70" stroke="#1a1a1a" stroke-width="0.8" />
<line x1="475.37" y1="334.00" x2="475.37" y2="336.70" stroke="#1a1a1a" stroke-width="0.8" />
<line x1="485.64" y1="334.00" x2="485.64" y2="336.70" stroke="#1a1a1a" stroke-width="0.8" />
<line x1="495.91" y1="334.00" x2="495.91" y2="336.70" stroke="#1a1a1a" stroke-width="0.8" />
<line x1="506.18" y1="334.00" x2="506.18" y2="337.60" stroke="#1a1a1a" stroke-width="0.8" />
<text x="362.40" y="346.40" text-anchor="middle" fill="#1a1a1a" style="font-size:6.4px;font-weight:bold;stroke:#1a1a1a;stroke-width:0.16px;" >0</text>
<text x="434.29" y="346.40" text-anchor="middle" fill="#1a1a1a" style="font-size:6.4px;font-weight:bold;stroke:#1a1a1a;stroke-width:0.16px;" >7</text>
<text x="506.18" y="346.40" text-anchor="middle" fill="#1a1a1a" style="font-size:6.4px;font-weight:bold;stroke:#1a1a1a;stroke-width:0.16px;" >14</text>
<text x="439.00" y="357.00" text-anchor="middle" fill="#111" style="font-size:7.4px;font-weight:bold;stroke:#111;stroke-width:0.16px;" >Time (days)</text>
<text transform="translate(338.90,262.50) rotate(-90)" text-anchor="middle" fill="#111" style="font-size:7.0px;font-weight:bold;stroke:#111;stroke-width:0.16px;" >Conccentration (normalized)</text>
<polyline points="362.40,212.00 372.67,222.00 393.21,233.00 434.29,248.60 465.10,266.90 506.18,278.50" fill="none" stroke="#f0c468" stroke-width="1.3"/>
<polyline points="362.40,212.00 372.67,226.00 393.21,236.50 434.29,238.00 465.10,248.00 506.18,251.20" fill="none" stroke="#e0522c" stroke-width="1.3"/>
<polyline points="362.40,212.00 372.67,222.00 393.21,234.00 434.29,237.00 465.10,250.00 506.18,264.40" fill="none" stroke="#7a4fa8" stroke-width="1.3"/>
<polyline points="362.40,212.00 372.67,221.00 393.21,232.00 434.29,236.00 465.10,247.00 506.18,256.00" fill="none" stroke="#1f5f90" stroke-width="1.3"/>
<polyline points="362.40,212.00 372.67,221.00 393.21,232.00 434.29,235.00 465.10,246.00 506.18,254.00" fill="none" stroke="#201848" stroke-width="1.3"/>
<polyline points="362.40,212.00 372.67,221.00 393.21,232.00 434.29,237.00 465.10,247.00 506.18,253.00" fill="none" stroke="#9ab83a" stroke-width="1.3"/>
<polyline points="362.40,211.00 372.67,222.00 393.21,231.00 434.29,237.40 465.10,245.00 506.18,255.80" fill="none" stroke="#2aa890" stroke-width="1.3"/>
<polyline points="362.40,219.00 372.67,231.00 393.21,228.00 434.29,237.00 465.10,246.00 506.18,257.00" fill="none" stroke="#48c0dc" stroke-width="1.3"/>
<polyline points="362.40,212.00 372.67,216.60 393.21,246.90 434.29,247.80 465.10,250.00 506.18,251.00" fill="none" stroke="#2e6a58" stroke-width="1.3"/>
<line x1="362.40" y1="206.00" x2="362.40" y2="218.00" stroke="#f0c468" stroke-width="0.7" />
<line x1="360.20" y1="206.00" x2="364.60" y2="206.00" stroke="#f0c468" stroke-width="0.9" />
<line x1="360.20" y1="218.00" x2="364.60" y2="218.00" stroke="#f0c468" stroke-width="0.9" />
<path d="M360.50,210.10 L364.30,213.90 M364.30,210.10 L360.50,213.90" stroke="#f0c468" stroke-width="0.8"/>
<line x1="372.67" y1="218.00" x2="372.67" y2="226.00" stroke="#f0c468" stroke-width="0.7" />
<line x1="370.47" y1="218.00" x2="374.87" y2="218.00" stroke="#f0c468" stroke-width="0.9" />
<line x1="370.47" y1="226.00" x2="374.87" y2="226.00" stroke="#f0c468" stroke-width="0.9" />
<path d="M370.77,220.10 L374.57,223.90 M374.57,220.10 L370.77,223.90" stroke="#f0c468" stroke-width="0.8"/>
<line x1="393.21" y1="230.00" x2="393.21" y2="236.00" stroke="#f0c468" stroke-width="0.7" />
<line x1="391.01" y1="230.00" x2="395.41" y2="230.00" stroke="#f0c468" stroke-width="0.9" />
<line x1="391.01" y1="236.00" x2="395.41" y2="236.00" stroke="#f0c468" stroke-width="0.9" />
<path d="M391.31,231.10 L395.11,234.90 M395.11,231.10 L391.31,234.90" stroke="#f0c468" stroke-width="0.8"/>
<line x1="434.29" y1="240.60" x2="434.29" y2="256.60" stroke="#f0c468" stroke-width="0.7" />
<line x1="432.09" y1="240.60" x2="436.49" y2="240.60" stroke="#f0c468" stroke-width="0.9" />
<line x1="432.09" y1="256.60" x2="436.49" y2="256.60" stroke="#f0c468" stroke-width="0.9" />
<path d="M432.39,246.70 L436.19,250.50 M436.19,246.70 L432.39,250.50" stroke="#f0c468" stroke-width="0.8"/>
<line x1="465.10" y1="263.90" x2="465.10" y2="269.90" stroke="#f0c468" stroke-width="0.7" />
<line x1="462.90" y1="263.90" x2="467.30" y2="263.90" stroke="#f0c468" stroke-width="0.9" />
<line x1="462.90" y1="269.90" x2="467.30" y2="269.90" stroke="#f0c468" stroke-width="0.9" />
<path d="M463.20,265.00 L467.00,268.80 M467.00,265.00 L463.20,268.80" stroke="#f0c468" stroke-width="0.8"/>
<line x1="506.18" y1="266.50" x2="506.18" y2="290.50" stroke="#f0c468" stroke-width="0.7" />
<line x1="503.98" y1="266.50" x2="508.38" y2="266.50" stroke="#f0c468" stroke-width="0.9" />
<line x1="503.98" y1="290.50" x2="508.38" y2="290.50" stroke="#f0c468" stroke-width="0.9" />
<path d="M504.28,276.60 L508.08,280.40 M508.08,276.60 L504.28,280.40" stroke="#f0c468" stroke-width="0.8"/>
<line x1="362.40" y1="209.00" x2="362.40" y2="215.00" stroke="#e0522c" stroke-width="0.7" />
<line x1="360.20" y1="209.00" x2="364.60" y2="209.00" stroke="#e0522c" stroke-width="0.9" />
<line x1="360.20" y1="215.00" x2="364.60" y2="215.00" stroke="#e0522c" stroke-width="0.9" />
<rect x="360.50" y="210.10" width="3.80" height="3.80" fill="#e0522c" />
<line x1="372.67" y1="224.00" x2="372.67" y2="228.00" stroke="#e0522c" stroke-width="0.7" />
<line x1="370.47" y1="224.00" x2="374.87" y2="224.00" stroke="#e0522c" stroke-width="0.9" />
<line x1="370.47" y1="228.00" x2="374.87" y2="228.00" stroke="#e0522c" stroke-width="0.9" />
<rect x="370.77" y="224.10" width="3.80" height="3.80" fill="#e0522c" />
<line x1="393.21" y1="233.50" x2="393.21" y2="239.50" stroke="#e0522c" stroke-width="0.7" />
<line x1="391.01" y1="233.50" x2="395.41" y2="233.50" stroke="#e0522c" stroke-width="0.9" />
<line x1="391.01" y1="239.50" x2="395.41" y2="239.50" stroke="#e0522c" stroke-width="0.9" />
<rect x="391.31" y="234.60" width="3.80" height="3.80" fill="#e0522c" />
<line x1="434.29" y1="235.00" x2="434.29" y2="241.00" stroke="#e0522c" stroke-width="0.7" />
<line x1="432.09" y1="235.00" x2="436.49" y2="235.00" stroke="#e0522c" stroke-width="0.9" />
<line x1="432.09" y1="241.00" x2="436.49" y2="241.00" stroke="#e0522c" stroke-width="0.9" />
<rect x="432.39" y="236.10" width="3.80" height="3.80" fill="#e0522c" />
<line x1="465.10" y1="245.00" x2="465.10" y2="251.00" stroke="#e0522c" stroke-width="0.7" />
<line x1="462.90" y1="245.00" x2="467.30" y2="245.00" stroke="#e0522c" stroke-width="0.9" />
<line x1="462.90" y1="251.00" x2="467.30" y2="251.00" stroke="#e0522c" stroke-width="0.9" />
<rect x="463.20" y="246.10" width="3.80" height="3.80" fill="#e0522c" />
<line x1="506.18" y1="247.20" x2="506.18" y2="255.20" stroke="#e0522c" stroke-width="0.7" />
<line x1="503.98" y1="247.20" x2="508.38" y2="247.20" stroke="#e0522c" stroke-width="0.9" />
<line x1="503.98" y1="255.20" x2="508.38" y2="255.20" stroke="#e0522c" stroke-width="0.9" />
<rect x="504.28" y="249.30" width="3.80" height="3.80" fill="#e0522c" />
<line x1="362.40" y1="209.00" x2="362.40" y2="215.00" stroke="#7a4fa8" stroke-width="0.7" />
<line x1="360.20" y1="209.00" x2="364.60" y2="209.00" stroke="#7a4fa8" stroke-width="0.9" />
<line x1="360.20" y1="215.00" x2="364.60" y2="215.00" stroke="#7a4fa8" stroke-width="0.9" />
<circle cx="362.40" cy="212.00" r="1.99" fill="#7a4fa8" />
<line x1="372.67" y1="220.00" x2="372.67" y2="224.00" stroke="#7a4fa8" stroke-width="0.7" />
<line x1="370.47" y1="220.00" x2="374.87" y2="220.00" stroke="#7a4fa8" stroke-width="0.9" />
<line x1="370.47" y1="224.00" x2="374.87" y2="224.00" stroke="#7a4fa8" stroke-width="0.9" />
<circle cx="372.67" cy="222.00" r="1.99" fill="#7a4fa8" />
<line x1="393.21" y1="231.00" x2="393.21" y2="237.00" stroke="#7a4fa8" stroke-width="0.7" />
<line x1="391.01" y1="231.00" x2="395.41" y2="231.00" stroke="#7a4fa8" stroke-width="0.9" />
<line x1="391.01" y1="237.00" x2="395.41" y2="237.00" stroke="#7a4fa8" stroke-width="0.9" />
<circle cx="393.21" cy="234.00" r="1.99" fill="#7a4fa8" />
<line x1="434.29" y1="234.00" x2="434.29" y2="240.00" stroke="#7a4fa8" stroke-width="0.7" />
<line x1="432.09" y1="234.00" x2="436.49" y2="234.00" stroke="#7a4fa8" stroke-width="0.9" />
<line x1="432.09" y1="240.00" x2="436.49" y2="240.00" stroke="#7a4fa8" stroke-width="0.9" />
<circle cx="434.29" cy="237.00" r="1.99" fill="#7a4fa8" />
<line x1="465.10" y1="247.00" x2="465.10" y2="253.00" stroke="#7a4fa8" stroke-width="0.7" />
<line x1="462.90" y1="247.00" x2="467.30" y2="247.00" stroke="#7a4fa8" stroke-width="0.9" />
<line x1="462.90" y1="253.00" x2="467.30" y2="253.00" stroke="#7a4fa8" stroke-width="0.9" />
<circle cx="465.10" cy="250.00" r="1.99" fill="#7a4fa8" />
<line x1="506.18" y1="261.40" x2="506.18" y2="267.40" stroke="#7a4fa8" stroke-width="0.7" />
<line x1="503.98" y1="261.40" x2="508.38" y2="261.40" stroke="#7a4fa8" stroke-width="0.9" />
<line x1="503.98" y1="267.40" x2="508.38" y2="267.40" stroke="#7a4fa8" stroke-width="0.9" />
<circle cx="506.18" cy="264.40" r="1.99" fill="#7a4fa8" />
<line x1="362.40" y1="209.00" x2="362.40" y2="215.00" stroke="#1f5f90" stroke-width="0.7" />
<line x1="360.20" y1="209.00" x2="364.60" y2="209.00" stroke="#1f5f90" stroke-width="0.9" />
<line x1="360.20" y1="215.00" x2="364.60" y2="215.00" stroke="#1f5f90" stroke-width="0.9" />
<path d="M362.40,209.53 L364.49,212.00 L362.40,214.47 L360.31,212.00 Z" fill="#1f5f90"/>
<line x1="372.67" y1="219.00" x2="372.67" y2="223.00" stroke="#1f5f90" stroke-width="0.7" />
<line x1="370.47" y1="219.00" x2="374.87" y2="219.00" stroke="#1f5f90" stroke-width="0.9" />
<line x1="370.47" y1="223.00" x2="374.87" y2="223.00" stroke="#1f5f90" stroke-width="0.9" />
<path d="M372.67,218.53 L374.76,221.00 L372.67,223.47 L370.58,221.00 Z" fill="#1f5f90"/>
<line x1="393.21" y1="229.00" x2="393.21" y2="235.00" stroke="#1f5f90" stroke-width="0.7" />
<line x1="391.01" y1="229.00" x2="395.41" y2="229.00" stroke="#1f5f90" stroke-width="0.9" />
<line x1="391.01" y1="235.00" x2="395.41" y2="235.00" stroke="#1f5f90" stroke-width="0.9" />
<path d="M393.21,229.53 L395.30,232.00 L393.21,234.47 L391.12,232.00 Z" fill="#1f5f90"/>
<line x1="434.29" y1="232.00" x2="434.29" y2="240.00" stroke="#1f5f90" stroke-width="0.7" />
<line x1="432.09" y1="232.00" x2="436.49" y2="232.00" stroke="#1f5f90" stroke-width="0.9" />
<line x1="432.09" y1="240.00" x2="436.49" y2="240.00" stroke="#1f5f90" stroke-width="0.9" />
<path d="M434.29,233.53 L436.38,236.00 L434.29,238.47 L432.20,236.00 Z" fill="#1f5f90"/>
<line x1="465.10" y1="244.00" x2="465.10" y2="250.00" stroke="#1f5f90" stroke-width="0.7" />
<line x1="462.90" y1="244.00" x2="467.30" y2="244.00" stroke="#1f5f90" stroke-width="0.9" />
<line x1="462.90" y1="250.00" x2="467.30" y2="250.00" stroke="#1f5f90" stroke-width="0.9" />
<path d="M465.10,244.53 L467.19,247.00 L465.10,249.47 L463.01,247.00 Z" fill="#1f5f90"/>
<line x1="506.18" y1="252.00" x2="506.18" y2="260.00" stroke="#1f5f90" stroke-width="0.7" />
<line x1="503.98" y1="252.00" x2="508.38" y2="252.00" stroke="#1f5f90" stroke-width="0.9" />
<line x1="503.98" y1="260.00" x2="508.38" y2="260.00" stroke="#1f5f90" stroke-width="0.9" />
<path d="M506.18,253.53 L508.27,256.00 L506.18,258.47 L504.09,256.00 Z" fill="#1f5f90"/>
<line x1="362.40" y1="209.00" x2="362.40" y2="215.00" stroke="#201848" stroke-width="0.7" />
<line x1="360.20" y1="209.00" x2="364.60" y2="209.00" stroke="#201848" stroke-width="0.9" />
<line x1="360.20" y1="215.00" x2="364.60" y2="215.00" stroke="#201848" stroke-width="0.9" />
<circle cx="362.40" cy="212.00" r="1.99" fill="#201848" />
<line x1="372.67" y1="219.00" x2="372.67" y2="223.00" stroke="#201848" stroke-width="0.7" />
<line x1="370.47" y1="219.00" x2="374.87" y2="219.00" stroke="#201848" stroke-width="0.9" />
<line x1="370.47" y1="223.00" x2="374.87" y2="223.00" stroke="#201848" stroke-width="0.9" />
<circle cx="372.67" cy="221.00" r="1.99" fill="#201848" />
<line x1="393.21" y1="229.00" x2="393.21" y2="235.00" stroke="#201848" stroke-width="0.7" />
<line x1="391.01" y1="229.00" x2="395.41" y2="229.00" stroke="#201848" stroke-width="0.9" />
<line x1="391.01" y1="235.00" x2="395.41" y2="235.00" stroke="#201848" stroke-width="0.9" />
<circle cx="393.21" cy="232.00" r="1.99" fill="#201848" />
<line x1="434.29" y1="232.00" x2="434.29" y2="238.00" stroke="#201848" stroke-width="0.7" />
<line x1="432.09" y1="232.00" x2="436.49" y2="232.00" stroke="#201848" stroke-width="0.9" />
<line x1="432.09" y1="238.00" x2="436.49" y2="238.00" stroke="#201848" stroke-width="0.9" />
<circle cx="434.29" cy="235.00" r="1.99" fill="#201848" />
<line x1="465.10" y1="243.00" x2="465.10" y2="249.00" stroke="#201848" stroke-width="0.7" />
<line x1="462.90" y1="243.00" x2="467.30" y2="243.00" stroke="#201848" stroke-width="0.9" />
<line x1="462.90" y1="249.00" x2="467.30" y2="249.00" stroke="#201848" stroke-width="0.9" />
<circle cx="465.10" cy="246.00" r="1.99" fill="#201848" />
<line x1="506.18" y1="249.00" x2="506.18" y2="259.00" stroke="#201848" stroke-width="0.7" />
<line x1="503.98" y1="249.00" x2="508.38" y2="249.00" stroke="#201848" stroke-width="0.9" />
<line x1="503.98" y1="259.00" x2="508.38" y2="259.00" stroke="#201848" stroke-width="0.9" />
<circle cx="506.18" cy="254.00" r="1.99" fill="#201848" />
<line x1="362.40" y1="209.00" x2="362.40" y2="215.00" stroke="#9ab83a" stroke-width="0.7" />
<line x1="360.20" y1="209.00" x2="364.60" y2="209.00" stroke="#9ab83a" stroke-width="0.9" />
<line x1="360.20" y1="215.00" x2="364.60" y2="215.00" stroke="#9ab83a" stroke-width="0.9" />
<path d="M360.12,213.90 L364.68,213.90 L362.40,209.72 Z" fill="#9ab83a"/>
<line x1="372.67" y1="219.00" x2="372.67" y2="223.00" stroke="#9ab83a" stroke-width="0.7" />
<line x1="370.47" y1="219.00" x2="374.87" y2="219.00" stroke="#9ab83a" stroke-width="0.9" />
<line x1="370.47" y1="223.00" x2="374.87" y2="223.00" stroke="#9ab83a" stroke-width="0.9" />
<path d="M370.39,222.90 L374.95,222.90 L372.67,218.72 Z" fill="#9ab83a"/>
<line x1="393.21" y1="229.00" x2="393.21" y2="235.00" stroke="#9ab83a" stroke-width="0.7" />
<line x1="391.01" y1="229.00" x2="395.41" y2="229.00" stroke="#9ab83a" stroke-width="0.9" />
<line x1="391.01" y1="235.00" x2="395.41" y2="235.00" stroke="#9ab83a" stroke-width="0.9" />
<path d="M390.93,233.90 L395.49,233.90 L393.21,229.72 Z" fill="#9ab83a"/>
<line x1="434.29" y1="234.00" x2="434.29" y2="240.00" stroke="#9ab83a" stroke-width="0.7" />
<line x1="432.09" y1="234.00" x2="436.49" y2="234.00" stroke="#9ab83a" stroke-width="0.9" />
<line x1="432.09" y1="240.00" x2="436.49" y2="240.00" stroke="#9ab83a" stroke-width="0.9" />
<path d="M432.01,238.90 L436.57,238.90 L434.29,234.72 Z" fill="#9ab83a"/>
<line x1="465.10" y1="244.00" x2="465.10" y2="250.00" stroke="#9ab83a" stroke-width="0.7" />
<line x1="462.90" y1="244.00" x2="467.30" y2="244.00" stroke="#9ab83a" stroke-width="0.9" />
<line x1="462.90" y1="250.00" x2="467.30" y2="250.00" stroke="#9ab83a" stroke-width="0.9" />
<path d="M462.82,248.90 L467.38,248.90 L465.10,244.72 Z" fill="#9ab83a"/>
<line x1="506.18" y1="250.00" x2="506.18" y2="256.00" stroke="#9ab83a" stroke-width="0.7" />
<line x1="503.98" y1="250.00" x2="508.38" y2="250.00" stroke="#9ab83a" stroke-width="0.9" />
<line x1="503.98" y1="256.00" x2="508.38" y2="256.00" stroke="#9ab83a" stroke-width="0.9" />
<path d="M503.90,254.90 L508.46,254.90 L506.18,250.72 Z" fill="#9ab83a"/>
<line x1="362.40" y1="204.00" x2="362.40" y2="218.00" stroke="#2aa890" stroke-width="0.7" />
<line x1="360.20" y1="204.00" x2="364.60" y2="204.00" stroke="#2aa890" stroke-width="0.9" />
<line x1="360.20" y1="218.00" x2="364.60" y2="218.00" stroke="#2aa890" stroke-width="0.9" />
<circle cx="362.40" cy="211.00" r="1.99" fill="#2aa890" />
<line x1="372.67" y1="217.00" x2="372.67" y2="227.00" stroke="#2aa890" stroke-width="0.7" />
<line x1="370.47" y1="217.00" x2="374.87" y2="217.00" stroke="#2aa890" stroke-width="0.9" />
<line x1="370.47" y1="227.00" x2="374.87" y2="227.00" stroke="#2aa890" stroke-width="0.9" />
<circle cx="372.67" cy="222.00" r="1.99" fill="#2aa890" />
<line x1="393.21" y1="227.00" x2="393.21" y2="235.00" stroke="#2aa890" stroke-width="0.7" />
<line x1="391.01" y1="227.00" x2="395.41" y2="227.00" stroke="#2aa890" stroke-width="0.9" />
<line x1="391.01" y1="235.00" x2="395.41" y2="235.00" stroke="#2aa890" stroke-width="0.9" />
<circle cx="393.21" cy="231.00" r="1.99" fill="#2aa890" />
<line x1="434.29" y1="234.40" x2="434.29" y2="240.40" stroke="#2aa890" stroke-width="0.7" />
<line x1="432.09" y1="234.40" x2="436.49" y2="234.40" stroke="#2aa890" stroke-width="0.9" />
<line x1="432.09" y1="240.40" x2="436.49" y2="240.40" stroke="#2aa890" stroke-width="0.9" />
<circle cx="434.29" cy="237.40" r="1.99" fill="#2aa890" />
<line x1="465.10" y1="242.00" x2="465.10" y2="248.00" stroke="#2aa890" stroke-width="0.7" />
<line x1="462.90" y1="242.00" x2="467.30" y2="242.00" stroke="#2aa890" stroke-width="0.9" />
<line x1="462.90" y1="248.00" x2="467.30" y2="248.00" stroke="#2aa890" stroke-width="0.9" />
<circle cx="465.10" cy="245.00" r="1.99" fill="#2aa890" />
<line x1="506.18" y1="251.80" x2="506.18" y2="259.80" stroke="#2aa890" stroke-width="0.7" />
<line x1="503.98" y1="251.80" x2="508.38" y2="251.80" stroke="#2aa890" stroke-width="0.9" />
<line x1="503.98" y1="259.80" x2="508.38" y2="259.80" stroke="#2aa890" stroke-width="0.9" />
<circle cx="506.18" cy="255.80" r="1.99" fill="#2aa890" />
<line x1="362.40" y1="216.00" x2="362.40" y2="222.00" stroke="#48c0dc" stroke-width="0.7" />
<line x1="360.20" y1="216.00" x2="364.60" y2="216.00" stroke="#48c0dc" stroke-width="0.9" />
<line x1="360.20" y1="222.00" x2="364.60" y2="222.00" stroke="#48c0dc" stroke-width="0.9" />
<circle cx="362.40" cy="219.00" r="1.99" fill="#48c0dc" />
<line x1="372.67" y1="229.00" x2="372.67" y2="233.00" stroke="#48c0dc" stroke-width="0.7" />
<line x1="370.47" y1="229.00" x2="374.87" y2="229.00" stroke="#48c0dc" stroke-width="0.9" />
<line x1="370.47" y1="233.00" x2="374.87" y2="233.00" stroke="#48c0dc" stroke-width="0.9" />
<circle cx="372.67" cy="231.00" r="1.99" fill="#48c0dc" />
<line x1="393.21" y1="225.00" x2="393.21" y2="231.00" stroke="#48c0dc" stroke-width="0.7" />
<line x1="391.01" y1="225.00" x2="395.41" y2="225.00" stroke="#48c0dc" stroke-width="0.9" />
<line x1="391.01" y1="231.00" x2="395.41" y2="231.00" stroke="#48c0dc" stroke-width="0.9" />
<circle cx="393.21" cy="228.00" r="1.99" fill="#48c0dc" />
<line x1="434.29" y1="234.00" x2="434.29" y2="240.00" stroke="#48c0dc" stroke-width="0.7" />
<line x1="432.09" y1="234.00" x2="436.49" y2="234.00" stroke="#48c0dc" stroke-width="0.9" />
<line x1="432.09" y1="240.00" x2="436.49" y2="240.00" stroke="#48c0dc" stroke-width="0.9" />
<circle cx="434.29" cy="237.00" r="1.99" fill="#48c0dc" />
<line x1="465.10" y1="243.00" x2="465.10" y2="249.00" stroke="#48c0dc" stroke-width="0.7" />
<line x1="462.90" y1="243.00" x2="467.30" y2="243.00" stroke="#48c0dc" stroke-width="0.9" />
<line x1="462.90" y1="249.00" x2="467.30" y2="249.00" stroke="#48c0dc" stroke-width="0.9" />
<circle cx="465.10" cy="246.00" r="1.99" fill="#48c0dc" />
<line x1="506.18" y1="253.00" x2="506.18" y2="261.00" stroke="#48c0dc" stroke-width="0.7" />
<line x1="503.98" y1="253.00" x2="508.38" y2="253.00" stroke="#48c0dc" stroke-width="0.9" />
<line x1="503.98" y1="261.00" x2="508.38" y2="261.00" stroke="#48c0dc" stroke-width="0.9" />
<circle cx="506.18" cy="257.00" r="1.99" fill="#48c0dc" />
<line x1="362.40" y1="209.00" x2="362.40" y2="215.00" stroke="#2e6a58" stroke-width="0.7" />
<line x1="360.20" y1="209.00" x2="364.60" y2="209.00" stroke="#2e6a58" stroke-width="0.9" />
<line x1="360.20" y1="215.00" x2="364.60" y2="215.00" stroke="#2e6a58" stroke-width="0.9" />
<path d="M360.12,210.10 L364.68,210.10 L362.40,214.28 Z" fill="#2e6a58"/>
<line x1="372.67" y1="213.60" x2="372.67" y2="219.60" stroke="#2e6a58" stroke-width="0.7" />
<line x1="370.47" y1="213.60" x2="374.87" y2="213.60" stroke="#2e6a58" stroke-width="0.9" />
<line x1="370.47" y1="219.60" x2="374.87" y2="219.60" stroke="#2e6a58" stroke-width="0.9" />
<path d="M370.39,214.70 L374.95,214.70 L372.67,218.88 Z" fill="#2e6a58"/>
<line x1="393.21" y1="238.90" x2="393.21" y2="254.90" stroke="#2e6a58" stroke-width="0.7" />
<line x1="391.01" y1="238.90" x2="395.41" y2="238.90" stroke="#2e6a58" stroke-width="0.9" />
<line x1="391.01" y1="254.90" x2="395.41" y2="254.90" stroke="#2e6a58" stroke-width="0.9" />
<path d="M390.93,245.00 L395.49,245.00 L393.21,249.18 Z" fill="#2e6a58"/>
<line x1="434.29" y1="232.80" x2="434.29" y2="262.80" stroke="#2e6a58" stroke-width="0.7" />
<line x1="432.09" y1="232.80" x2="436.49" y2="232.80" stroke="#2e6a58" stroke-width="0.9" />
<line x1="432.09" y1="262.80" x2="436.49" y2="262.80" stroke="#2e6a58" stroke-width="0.9" />
<path d="M432.01,245.90 L436.57,245.90 L434.29,250.08 Z" fill="#2e6a58"/>
<line x1="465.10" y1="247.00" x2="465.10" y2="253.00" stroke="#2e6a58" stroke-width="0.7" />
<line x1="462.90" y1="247.00" x2="467.30" y2="247.00" stroke="#2e6a58" stroke-width="0.9" />
<line x1="462.90" y1="253.00" x2="467.30" y2="253.00" stroke="#2e6a58" stroke-width="0.9" />
<path d="M462.82,248.10 L467.38,248.10 L465.10,252.28 Z" fill="#2e6a58"/>
<line x1="506.18" y1="248.00" x2="506.18" y2="254.00" stroke="#2e6a58" stroke-width="0.7" />
<line x1="503.98" y1="248.00" x2="508.38" y2="248.00" stroke="#2e6a58" stroke-width="0.9" />
<line x1="503.98" y1="254.00" x2="508.38" y2="254.00" stroke="#2e6a58" stroke-width="0.9" />
<path d="M503.90,249.10 L508.46,249.10 L506.18,253.28 Z" fill="#2e6a58"/>
<text x="1.00" y="375.70" text-anchor="start" fill="#111" style="font-size:12.8px;font-weight:bold;stroke:#111;stroke-width:0.16px;" >F</text>
<text x="103.20" y="385.20" text-anchor="middle" fill="#111" style="font-size:8.2px;font-weight:bold;stroke:#111;stroke-width:0.16px;" >JIMT-1 + HDFa spheroid</text>
<text x="103.40" y="392.40" text-anchor="middle" fill="#1a1a1a" style="font-size:4.85px;font-weight:bold;stroke:#1a1a1a;stroke-width:0.05px;" >1/1 Coculture of cancer cell line and fibroblasts</text>
<line x1="35.00" y1="392.80" x2="35.00" y2="538.00" stroke="#1a1a1a" stroke-width="1.4" />
<line x1="34.40" y1="537.40" x2="180.50" y2="537.40" stroke="#1a1a1a" stroke-width="1.4" />
<line x1="32.00" y1="518.60" x2="35.00" y2="518.60" stroke="#1a1a1a" stroke-width="0.9" />
<line x1="32.00" y1="493.48" x2="35.00" y2="493.48" stroke="#1a1a1a" stroke-width="0.9" />
<line x1="32.00" y1="468.36" x2="35.00" y2="468.36" stroke="#1a1a1a" stroke-width="0.9" />
<line x1="32.00" y1="443.24" x2="35.00" y2="443.24" stroke="#1a1a1a" stroke-width="0.9" />
<line x1="32.00" y1="418.12" x2="35.00" y2="418.12" stroke="#1a1a1a" stroke-width="0.9" />
<line x1="32.00" y1="393.00" x2="35.00" y2="393.00" stroke="#1a1a1a" stroke-width="0.9" />
<text x="32.00" y="520.50" text-anchor="end" fill="#1a1a1a" style="font-size:5.2px;font-weight:bold;stroke:#1a1a1a;stroke-width:0.16px;" >0</text>
<text x="32.00" y="495.38" text-anchor="end" fill="#1a1a1a" style="font-size:5.2px;font-weight:bold;stroke:#1a1a1a;stroke-width:0.16px;" >20</text>
<text x="32.00" y="470.26" text-anchor="end" fill="#1a1a1a" style="font-size:5.2px;font-weight:bold;stroke:#1a1a1a;stroke-width:0.16px;" >40</text>
<text x="32.00" y="445.14" text-anchor="end" fill="#1a1a1a" style="font-size:5.2px;font-weight:bold;stroke:#1a1a1a;stroke-width:0.16px;" >60</text>
<text x="32.00" y="420.02" text-anchor="end" fill="#1a1a1a" style="font-size:5.2px;font-weight:bold;stroke:#1a1a1a;stroke-width:0.16px;" >80</text>
<text x="32.00" y="394.90" text-anchor="end" fill="#1a1a1a" style="font-size:5.2px;font-weight:bold;stroke:#1a1a1a;stroke-width:0.16px;" >100</text>
<line x1="35.00" y1="537.40" x2="35.00" y2="539.80" stroke="#1a1a1a" stroke-width="0.6" />
<line x1="41.23" y1="537.40" x2="41.23" y2="538.70" stroke="#1a1a1a" stroke-width="0.6" />
<line x1="44.88" y1="537.40" x2="44.88" y2="538.70" stroke="#1a1a1a" stroke-width="0.6" />
<line x1="47.46" y1="537.40" x2="47.46" y2="538.70" stroke="#1a1a1a" stroke-width="0.6" />
<line x1="49.47" y1="537.40" x2="49.47" y2="538.70" stroke="#1a1a1a" stroke-width="0.6" />
<line x1="51.11" y1="537.40" x2="51.11" y2="538.70" stroke="#1a1a1a" stroke-width="0.6" />
<line x1="52.49" y1="537.40" x2="52.49" y2="538.70" stroke="#1a1a1a" stroke-width="0.6" />
<line x1="53.69" y1="537.40" x2="53.69" y2="538.70" stroke="#1a1a1a" stroke-width="0.6" />
<line x1="54.75" y1="537.40" x2="54.75" y2="538.70" stroke="#1a1a1a" stroke-width="0.6" />
<line x1="55.70" y1="537.40" x2="55.70" y2="539.80" stroke="#1a1a1a" stroke-width="0.6" />
<line x1="61.93" y1="537.40" x2="61.93" y2="538.70" stroke="#1a1a1a" stroke-width="0.6" />
<line x1="65.58" y1="537.40" x2="65.58" y2="538.70" stroke="#1a1a1a" stroke-width="0.6" />
<line x1="68.16" y1="537.40" x2="68.16" y2="538.70" stroke="#1a1a1a" stroke-width="0.6" />
<line x1="70.17" y1="537.40" x2="70.17" y2="538.70" stroke="#1a1a1a" stroke-width="0.6" />
<line x1="71.81" y1="537.40" x2="71.81" y2="538.70" stroke="#1a1a1a" stroke-width="0.6" />
<line x1="73.19" y1="537.40" x2="73.19" y2="538.70" stroke="#1a1a1a" stroke-width="0.6" />
<line x1="74.39" y1="537.40" x2="74.39" y2="538.70" stroke="#1a1a1a" stroke-width="0.6" />
<line x1="75.45" y1="537.40" x2="75.45" y2="538.70" stroke="#1a1a1a" stroke-width="0.6" />
<line x1="76.40" y1="537.40" x2="76.40" y2="539.80" stroke="#1a1a1a" stroke-width="0.6" />
<line x1="82.63" y1="537.40" x2="82.63" y2="538.70" stroke="#1a1a1a" stroke-width="0.6" />
<line x1="86.28" y1="537.40" x2="86.28" y2="538.70" stroke="#1a1a1a" stroke-width="0.6" />
<line x1="88.86" y1="537.40" x2="88.86" y2="538.70" stroke="#1a1a1a" stroke-width="0.6" />
<line x1="90.87" y1="537.40" x2="90.87" y2="538.70" stroke="#1a1a1a" stroke-width="0.6" />
<line x1="92.51" y1="537.40" x2="92.51" y2="538.70" stroke="#1a1a1a" stroke-width="0.6" />
<line x1="93.89" y1="537.40" x2="93.89" y2="538.70" stroke="#1a1a1a" stroke-width="0.6" />
<line x1="95.09" y1="537.40" x2="95.09" y2="538.70" stroke="#1a1a1a" stroke-width="0.6" />
<line x1="96.15" y1="537.40" x2="96.15" y2="538.70" stroke="#1a1a1a" stroke-width="0.6" />
<line x1="97.10" y1="537.40" x2="97.10" y2="539.80" stroke="#1a1a1a" stroke-width="0.6" />
<line x1="103.33" y1="537.40" x2="103.33" y2="538.70" stroke="#1a1a1a" stroke-width="0.6" />
<line x1="106.98" y1="537.40" x2="106.98" y2="538.70" stroke="#1a1a1a" stroke-width="0.6" />
<line x1="109.56" y1="537.40" x2="109.56" y2="538.70" stroke="#1a1a1a" stroke-width="0.6" />
<line x1="111.57" y1="537.40" x2="111.57" y2="538.70" stroke="#1a1a1a" stroke-width="0.6" />
<line x1="113.21" y1="537.40" x2="113.21" y2="538.70" stroke="#1a1a1a" stroke-width="0.6" />
<line x1="114.59" y1="537.40" x2="114.59" y2="538.70" stroke="#1a1a1a" stroke-width="0.6" />
<line x1="115.79" y1="537.40" x2="115.79" y2="538.70" stroke="#1a1a1a" stroke-width="0.6" />
<line x1="116.85" y1="537.40" x2="116.85" y2="538.70" stroke="#1a1a1a" stroke-width="0.6" />
<line x1="117.80" y1="537.40" x2="117.80" y2="539.80" stroke="#1a1a1a" stroke-width="0.6" />
<line x1="124.03" y1="537.40" x2="124.03" y2="538.70" stroke="#1a1a1a" stroke-width="0.6" />
<line x1="127.68" y1="537.40" x2="127.68" y2="538.70" stroke="#1a1a1a" stroke-width="0.6" />
<line x1="130.26" y1="537.40" x2="130.26" y2="538.70" stroke="#1a1a1a" stroke-width="0.6" />
<line x1="132.27" y1="537.40" x2="132.27" y2="538.70" stroke="#1a1a1a" stroke-width="0.6" />
<line x1="133.91" y1="537.40" x2="133.91" y2="538.70" stroke="#1a1a1a" stroke-width="0.6" />
<line x1="135.29" y1="537.40" x2="135.29" y2="538.70" stroke="#1a1a1a" stroke-width="0.6" />
<line x1="136.49" y1="537.40" x2="136.49" y2="538.70" stroke="#1a1a1a" stroke-width="0.6" />
<line x1="137.55" y1="537.40" x2="137.55" y2="538.70" stroke="#1a1a1a" stroke-width="0.6" />
<line x1="138.50" y1="537.40" x2="138.50" y2="539.80" stroke="#1a1a1a" stroke-width="0.6" />
<line x1="144.73" y1="537.40" x2="144.73" y2="538.70" stroke="#1a1a1a" stroke-width="0.6" />
<line x1="148.38" y1="537.40" x2="148.38" y2="538.70" stroke="#1a1a1a" stroke-width="0.6" />
<line x1="150.96" y1="537.40" x2="150.96" y2="538.70" stroke="#1a1a1a" stroke-width="0.6" />
<line x1="152.97" y1="537.40" x2="152.97" y2="538.70" stroke="#1a1a1a" stroke-width="0.6" />
<line x1="154.61" y1="537.40" x2="154.61" y2="538.70" stroke="#1a1a1a" stroke-width="0.6" />
<line x1="155.99" y1="537.40" x2="155.99" y2="538.70" stroke="#1a1a1a" stroke-width="0.6" />
<line x1="157.19" y1="537.40" x2="157.19" y2="538.70" stroke="#1a1a1a" stroke-width="0.6" />
<line x1="158.25" y1="537.40" x2="158.25" y2="538.70" stroke="#1a1a1a" stroke-width="0.6" />
<line x1="159.20" y1="537.40" x2="159.20" y2="539.80" stroke="#1a1a1a" stroke-width="0.6" />
<line x1="165.43" y1="537.40" x2="165.43" y2="538.70" stroke="#1a1a1a" stroke-width="0.6" />
<line x1="169.08" y1="537.40" x2="169.08" y2="538.70" stroke="#1a1a1a" stroke-width="0.6" />
<line x1="171.66" y1="537.40" x2="171.66" y2="538.70" stroke="#1a1a1a" stroke-width="0.6" />
<line x1="173.67" y1="537.40" x2="173.67" y2="538.70" stroke="#1a1a1a" stroke-width="0.6" />
<line x1="175.31" y1="537.40" x2="175.31" y2="538.70" stroke="#1a1a1a" stroke-width="0.6" />
<line x1="176.69" y1="537.40" x2="176.69" y2="538.70" stroke="#1a1a1a" stroke-width="0.6" />
<line x1="177.89" y1="537.40" x2="177.89" y2="538.70" stroke="#1a1a1a" stroke-width="0.6" />
<line x1="178.95" y1="537.40" x2="178.95" y2="538.70" stroke="#1a1a1a" stroke-width="0.6" />
<line x1="179.90" y1="537.40" x2="179.90" y2="539.80" stroke="#1a1a1a" stroke-width="0.6" />
<text x="35.00" y="546.20" text-anchor="middle" fill="#1a1a1a" style="font-size:5.2px;font-weight:bold;stroke:#1a1a1a;stroke-width:0.16px;" >0.0001</text>
<text x="55.70" y="546.20" text-anchor="middle" fill="#1a1a1a" style="font-size:5.2px;font-weight:bold;stroke:#1a1a1a;stroke-width:0.16px;" >0.001</text>
<text x="76.40" y="546.20" text-anchor="middle" fill="#1a1a1a" style="font-size:5.2px;font-weight:bold;stroke:#1a1a1a;stroke-width:0.16px;" >0.01</text>
<text x="97.10" y="546.20" text-anchor="middle" fill="#1a1a1a" style="font-size:5.2px;font-weight:bold;stroke:#1a1a1a;stroke-width:0.16px;" >0.1</text>
<text x="117.80" y="546.20" text-anchor="middle" fill="#1a1a1a" style="font-size:5.2px;font-weight:bold;stroke:#1a1a1a;stroke-width:0.16px;" >1</text>
<text x="138.50" y="546.20" text-anchor="middle" fill="#1a1a1a" style="font-size:5.2px;font-weight:bold;stroke:#1a1a1a;stroke-width:0.16px;" >10</text>
<text x="159.20" y="546.20" text-anchor="middle" fill="#1a1a1a" style="font-size:5.2px;font-weight:bold;stroke:#1a1a1a;stroke-width:0.16px;" >100</text>
<text x="179.90" y="546.20" text-anchor="middle" fill="#1a1a1a" style="font-size:5.2px;font-weight:bold;stroke:#1a1a1a;stroke-width:0.16px;" >1,000</text>
<text x="109.20" y="556.20" text-anchor="middle" fill="#111" style="font-size:6.75px;font-weight:bold;stroke:#111;stroke-width:0.16px;" >Concentration (nmol/L)</text>
<text transform="translate(17.30,465.00) rotate(-90)" text-anchor="middle" fill="#111" style="font-size:6.85px;font-weight:bold;stroke:#111;stroke-width:0.16px;" >% Cytotoxicity</text>
<line x1="35.0" y1="518.60" x2="179.4" y2="518.60" stroke="#666" stroke-width="0.9" stroke-dasharray="1,1"/>
<defs>
<radialGradient id="sph" cx="77.7" cy="430.9" r="31" gradientUnits="userSpaceOnUse">
<stop offset="0" stop-color="#555"/>
<stop offset="0.40" stop-color="#5c5c5c"/>
<stop offset="0.54" stop-color="#7a7a7a"/>
<stop offset="0.61" stop-color="#a8a8a8"/>
<stop offset="0.645" stop-color="#d6d6d6"/>
<stop offset="0.68" stop-color="#bababa"/>
<stop offset="0.74" stop-color="#7c7c7c"/>
<stop offset="0.86" stop-color="#444"/>
<stop offset="1" stop-color="#0c0c0c"/>
</radialGradient>
<radialGradient id="fadeG" cx="77.7" cy="430.9" r="19" gradientUnits="userSpaceOnUse"><stop offset="0" stop-color="#fff"/><stop offset="0.7" stop-color="#fff"/><stop offset="1" stop-color="#000"/></radialGradient>
<mask id="fadeM"><rect x="40" y="398" width="75" height="56" fill="url(#fadeG)"/></mask>
<filter id="noiseD" x="0" y="0" width="1" height="1"><feTurbulence type="fractalNoise" baseFrequency="0.38" numOctaves="3" seed="7"/><feColorMatrix values="0 0 0 0 0  0 0 0 0 0  0 0 0 0 0  3.2 0 0 0 -1.35"/><feComposite in2="SourceGraphic" operator="in"/></filter>
<filter id="noiseL" x="0" y="0" width="1" height="1"><feTurbulence type="fractalNoise" baseFrequency="0.45" numOctaves="2" seed="13"/><feColorMatrix values="0 0 0 0 0  0 0 0 0 0  0 0 0 0 0  3.2 0 0 0 -1.55"/><feComposite in2="SourceGraphic" operator="in"/></filter>
</defs>
<rect x="42.10" y="400.80" width="68.30" height="51.00" fill="#0c0c0c" />
<rect x="42.1" y="400.8" width="68.3" height="51.0" fill="url(#sph)"/>
<g mask="url(#fadeM)">
<circle cx="77.70" cy="430.90" r="18.5" fill="#1a1a1a" opacity="0.8" filter="url(#noiseD)"/>
<circle cx="77.70" cy="430.90" r="18.5" fill="#b0b0b0" opacity="0.5" filter="url(#noiseL)"/>
</g>
<ellipse cx="76.5" cy="411.4" rx="2.6" ry="1.6" fill="#f4f4f4" opacity="0.85"/>
<polyline points="60.0,526.1 61.8,526.1 63.5,526.1 65.3,526.1 67.0,526.1 68.8,526.1 70.5,526.1 72.3,526.1 74.1,526.1 75.8,526.1 77.6,526.1 79.3,526.1 81.1,526.1 82.9,526.0 84.6,526.0 86.4,526.0 88.1,526.0 89.9,525.9 91.7,525.9 93.4,525.8 95.2,525.7 96.9,525.6 98.7,525.5 100.4,525.3 102.2,525.1 104.0,524.8 105.7,524.5 107.5,524.1 109.2,523.7 111.0,523.1 112.8,522.4 114.5,521.5 116.3,520.4 118.0,519.2 119.8,517.7 121.5,515.9 123.3,513.8 125.1,511.3 126.8,508.6 128.6,505.5 130.3,502.1 132.1,498.4 133.8,494.6 135.6,490.6 137.4,486.6 139.1,482.7 140.9,478.9 142.6,475.4 144.4,472.2 146.2,469.3 147.9,466.7 149.7,464.5 151.4,462.5 153.2,460.9 154.9,459.5 156.7,458.4 158.5,457.4 160.2,456.7 162.0,456.0 163.7,455.5 165.5,455.1" fill="none" stroke="#f5d7a8" stroke-width="1.0"/>
<polyline points="60.0,509.7 61.8,509.7 63.5,509.6 65.3,509.6 67.0,509.6 68.8,509.5 70.5,509.5 72.3,509.5 74.1,509.4 75.8,509.3 77.6,509.3 79.3,509.2 81.1,509.1 82.9,509.0 84.6,508.8 86.4,508.7 88.1,508.5 89.9,508.3 91.7,508.1 93.4,507.8 95.2,507.5 96.9,507.1 98.7,506.7 100.4,506.3 102.2,505.7 104.0,505.1 105.7,504.4 107.5,503.6 109.2,502.7 111.0,501.7 112.8,500.5 114.5,499.2 116.3,497.7 118.0,496.1 119.8,494.3 121.5,492.3 123.3,490.0 125.1,487.6 126.8,485.0 128.6,482.2 130.3,479.2 132.1,476.0 133.8,472.6 135.6,469.2 137.4,465.6 139.1,462.0 140.9,458.4 142.6,454.8 144.4,451.2 146.2,447.7 147.9,444.4 149.7,441.2 151.4,438.2 153.2,435.4 154.9,432.8 156.7,430.3 158.5,428.1 160.2,426.1 162.0,424.3 163.7,422.6 165.5,421.2" fill="none" stroke="#f0a860" stroke-width="1.0"/>
<polyline points="60.0,518.5 61.8,518.5 63.5,518.5 65.3,518.5 67.0,518.4 68.8,518.4 70.5,518.4 72.3,518.3 74.1,518.3 75.8,518.2 77.6,518.1 79.3,518.1 81.1,518.0 82.9,517.8 84.6,517.7 86.4,517.5 88.1,517.3 89.9,517.1 91.7,516.8 93.4,516.5 95.2,516.1 96.9,515.6 98.7,515.0 100.4,514.4 102.2,513.6 104.0,512.8 105.7,511.8 107.5,510.6 109.2,509.3 111.0,507.7 112.8,506.0 114.5,504.1 116.3,502.0 118.0,499.6 119.8,497.1 121.5,494.4 123.3,491.5 125.1,488.6 126.8,485.5 128.6,482.4 130.3,479.3 132.1,476.3 133.8,473.4 135.6,470.7 137.4,468.1 139.1,465.7 140.9,463.5 142.6,461.5 144.4,459.7 146.2,458.1 147.9,456.7 149.7,455.5 151.4,454.4 153.2,453.5 154.9,452.7 156.7,452.0 158.5,451.5 160.2,451.0 162.0,450.5 163.7,450.2 165.5,449.9" fill="none" stroke="#e0522c" stroke-width="1.0"/>
<polyline points="60.0,511.6 61.8,511.6 63.5,511.6 65.3,511.6 67.0,511.6 68.8,511.5 70.5,511.5 72.3,511.5 74.1,511.4 75.8,511.4 77.6,511.3 79.3,511.2 81.1,511.0 82.9,510.9 84.6,510.7 86.4,510.4 88.1,510.1 89.9,509.8 91.7,509.3 93.4,508.8 95.2,508.1 96.9,507.3 98.7,506.3 100.4,505.2 102.2,503.8 104.0,502.2 105.7,500.4 107.5,498.3 109.2,496.0 111.0,493.5 112.8,490.9 114.5,488.1 116.3,485.2 118.0,482.3 119.8,479.6 121.5,476.9 123.3,474.5 125.1,472.3 126.8,470.3 128.6,468.5 130.3,467.0 132.1,465.7 133.8,464.6 135.6,463.7 137.4,462.9 139.1,462.3 140.9,461.8 142.6,461.4 144.4,461.0 146.2,460.7 147.9,460.5 149.7,460.3 151.4,460.2 153.2,460.1 154.9,460.0 156.7,459.9 158.5,459.8 160.2,459.8 162.0,459.7 163.7,459.7 165.5,459.7" fill="none" stroke="#9ab83a" stroke-width="1.0"/>
<polyline points="60.0,518.1 61.8,518.0 63.5,517.9 65.3,517.8 67.0,517.6 68.8,517.5 70.5,517.3 72.3,517.1 74.1,516.9 75.8,516.6 77.6,516.3 79.3,515.9 81.1,515.6 82.9,515.1 84.6,514.6 86.4,514.0 88.1,513.3 89.9,512.5 91.7,511.7 93.4,510.7 95.2,509.6 96.9,508.4 98.7,507.1 100.4,505.6 102.2,504.0 104.0,502.2 105.7,500.3 107.5,498.3 109.2,496.1 111.0,493.9 112.8,491.5 114.5,489.0 116.3,486.6 118.0,484.0 119.8,481.5 121.5,479.0 123.3,476.6 125.1,474.2 126.8,471.9 128.6,469.8 130.3,467.7 132.1,465.8 133.8,464.1 135.6,462.5 137.4,461.0 139.1,459.7 140.9,458.5 142.6,457.4 144.4,456.4 146.2,455.6 147.9,454.8 149.7,454.1 151.4,453.5 153.2,453.0 154.9,452.6 156.7,452.2 158.5,451.8 160.2,451.5 162.0,451.2 163.7,451.0 165.5,450.8" fill="none" stroke="#2e5a58" stroke-width="1.0"/>
<polyline points="60.0,520.6 61.8,520.5 63.5,520.4 65.3,520.3 67.0,520.2 68.8,520.1 70.5,519.9 72.3,519.7 74.1,519.5 75.8,519.2 77.6,518.9 79.3,518.6 81.1,518.2 82.9,517.8 84.6,517.3 86.4,516.7 88.1,516.1 89.9,515.3 91.7,514.5 93.4,513.6 95.2,512.5 96.9,511.3 98.7,510.0 100.4,508.6 102.2,506.9 104.0,505.2 105.7,503.2 107.5,501.2 109.2,498.9 111.0,496.5 112.8,494.0 114.5,491.4 116.3,488.7 118.0,485.9 119.8,483.1 121.5,480.3 123.3,477.6 125.1,474.8 126.8,472.2 128.6,469.7 130.3,467.3 132.1,465.0 133.8,462.9 135.6,460.9 137.4,459.1 139.1,457.4 140.9,455.9 142.6,454.6 144.4,453.4 146.2,452.3 147.9,451.3 149.7,450.5 151.4,449.7 153.2,449.0 154.9,448.4 156.7,447.9 158.5,447.5 160.2,447.1 162.0,446.7 163.7,446.4 165.5,446.2" fill="none" stroke="#201848" stroke-width="1.0"/>
<polyline points="60.0,517.9 61.8,517.8 63.5,517.7 65.3,517.6 67.0,517.4 68.8,517.2 70.5,517.1 72.3,516.8 74.1,516.6 75.8,516.3 77.6,516.0 79.3,515.6 81.1,515.2 82.9,514.7 84.6,514.2 86.4,513.6 88.1,512.9 89.9,512.2 91.7,511.3 93.4,510.4 95.2,509.4 96.9,508.2 98.7,506.9 100.4,505.5 102.2,504.0 104.0,502.3 105.7,500.5 107.5,498.6 109.2,496.5 111.0,494.4 112.8,492.1 114.5,489.7 116.3,487.2 118.0,484.7 119.8,482.1 121.5,479.5 123.3,476.9 125.1,474.4 126.8,471.9 128.6,469.4 130.3,467.1 132.1,464.9 133.8,462.8 135.6,460.8 137.4,458.9 139.1,457.2 140.9,455.6 142.6,454.2 144.4,452.9 146.2,451.7 147.9,450.6 149.7,449.6 151.4,448.7 153.2,447.9 154.9,447.2 156.7,446.6 158.5,446.0 160.2,445.6 162.0,445.1 163.7,444.7 165.5,444.4" fill="none" stroke="#7a4fa8" stroke-width="1.0"/>
<polyline points="60.0,524.9 61.8,524.9 63.5,524.9 65.3,524.9 67.0,524.9 68.8,524.9 70.5,524.8 72.3,524.8 74.1,524.8 75.8,524.8 77.6,524.7 79.3,524.7 81.1,524.6 82.9,524.5 84.6,524.4 86.4,524.2 88.1,524.0 89.9,523.6 91.7,523.2 93.4,522.6 95.2,521.7 96.9,520.6 98.7,519.1 100.4,517.2 102.2,514.7 104.0,511.6 105.7,507.9 107.5,503.4 109.2,498.4 111.0,492.9 112.8,487.3 114.5,481.8 116.3,476.7 118.0,472.2 119.8,468.3 121.5,465.1 123.3,462.5 125.1,460.5 126.8,459.0 128.6,457.8 130.3,457.0 132.1,456.3 133.8,455.8 135.6,455.5 137.4,455.2 139.1,455.0 140.9,454.9 142.6,454.8 144.4,454.7 146.2,454.7 147.9,454.6 149.7,454.6 151.4,454.6 153.2,454.6 154.9,454.6 156.7,454.6 158.5,454.6 160.2,454.6 162.0,454.6 163.7,454.5 165.5,454.5" fill="none" stroke="#2ab0c8" stroke-width="1.0"/>
<polyline points="60.0,520.3 61.8,520.3 63.5,520.3 65.3,520.2 67.0,520.1 68.8,520.1 70.5,520.0 72.3,519.8 74.1,519.7 75.8,519.5 77.6,519.2 79.3,518.9 81.1,518.6 82.9,518.1 84.6,517.6 86.4,516.9 88.1,516.0 89.9,515.0 91.7,513.8 93.4,512.3 95.2,510.5 96.9,508.4 98.7,506.0 100.4,503.1 102.2,499.9 104.0,496.4 105.7,492.5 107.5,488.3 109.2,483.9 111.0,479.4 112.8,474.9 114.5,470.5 116.3,466.3 118.0,462.4 119.8,458.8 121.5,455.6 123.3,452.8 125.1,450.3 126.8,448.2 128.6,446.4 130.3,445.0 132.1,443.7 133.8,442.7 135.6,441.8 137.4,441.2 139.1,440.6 140.9,440.1 142.6,439.8 144.4,439.5 146.2,439.2 147.9,439.0 149.7,438.9 151.4,438.7 153.2,438.6 154.9,438.6 156.7,438.5 158.5,438.4 160.2,438.4 162.0,438.4 163.7,438.3 165.5,438.3" fill="none" stroke="#1f5f90" stroke-width="1.0"/>
<line x1="60.40" y1="525.02" x2="60.40" y2="531.02" stroke="#f5d7a8" stroke-width="0.6" />
<line x1="59.10" y1="525.02" x2="61.70" y2="525.02" stroke="#f5d7a8" stroke-width="0.6" />
<line x1="59.10" y1="531.02" x2="61.70" y2="531.02" stroke="#f5d7a8" stroke-width="0.6" />
<path d="M58.50,526.12 L62.30,529.92 M62.30,526.12 L58.50,529.92" stroke="#f5d7a8" stroke-width="0.8"/>
<line x1="73.50" y1="526.90" x2="73.50" y2="532.90" stroke="#f5d7a8" stroke-width="0.6" />
<line x1="72.20" y1="526.90" x2="74.80" y2="526.90" stroke="#f5d7a8" stroke-width="0.6" />
<line x1="72.20" y1="532.90" x2="74.80" y2="532.90" stroke="#f5d7a8" stroke-width="0.6" />
<path d="M71.60,528.00 L75.40,531.80 M75.40,528.00 L71.60,531.80" stroke="#f5d7a8" stroke-width="0.8"/>
<line x1="86.60" y1="526.90" x2="86.60" y2="532.90" stroke="#f5d7a8" stroke-width="0.6" />
<line x1="85.30" y1="526.90" x2="87.90" y2="526.90" stroke="#f5d7a8" stroke-width="0.6" />
<line x1="85.30" y1="532.90" x2="87.90" y2="532.90" stroke="#f5d7a8" stroke-width="0.6" />
<path d="M84.70,528.00 L88.50,531.80 M88.50,528.00 L84.70,531.80" stroke="#f5d7a8" stroke-width="0.8"/>
<line x1="99.70" y1="523.14" x2="99.70" y2="529.14" stroke="#f5d7a8" stroke-width="0.6" />
<line x1="98.40" y1="523.14" x2="101.00" y2="523.14" stroke="#f5d7a8" stroke-width="0.6" />
<line x1="98.40" y1="529.14" x2="101.00" y2="529.14" stroke="#f5d7a8" stroke-width="0.6" />
<path d="M97.80,524.24 L101.60,528.04 M101.60,524.24 L97.80,528.04" stroke="#f5d7a8" stroke-width="0.8"/>
<line x1="112.80" y1="515.60" x2="112.80" y2="521.60" stroke="#f5d7a8" stroke-width="0.6" />
<line x1="111.50" y1="515.60" x2="114.10" y2="515.60" stroke="#f5d7a8" stroke-width="0.6" />
<line x1="111.50" y1="521.60" x2="114.10" y2="521.60" stroke="#f5d7a8" stroke-width="0.6" />
<path d="M110.90,516.70 L114.70,520.50 M114.70,516.70 L110.90,520.50" stroke="#f5d7a8" stroke-width="0.8"/>
<line x1="125.90" y1="499.53" x2="125.90" y2="507.53" stroke="#f5d7a8" stroke-width="0.6" />
<line x1="124.60" y1="499.53" x2="127.20" y2="499.53" stroke="#f5d7a8" stroke-width="0.6" />
<line x1="124.60" y1="507.53" x2="127.20" y2="507.53" stroke="#f5d7a8" stroke-width="0.6" />
<path d="M124.00,501.63 L127.80,505.43 M127.80,501.63 L124.00,505.43" stroke="#f5d7a8" stroke-width="0.8"/>
<line x1="139.00" y1="475.92" x2="139.00" y2="485.92" stroke="#f5d7a8" stroke-width="0.6" />
<line x1="137.70" y1="475.92" x2="140.30" y2="475.92" stroke="#f5d7a8" stroke-width="0.6" />
<line x1="137.70" y1="485.92" x2="140.30" y2="485.92" stroke="#f5d7a8" stroke-width="0.6" />
<path d="M137.10,479.02 L140.90,482.82 M140.90,479.02 L137.10,482.82" stroke="#f5d7a8" stroke-width="0.8"/>
<line x1="152.10" y1="457.08" x2="152.10" y2="467.08" stroke="#f5d7a8" stroke-width="0.6" />
<line x1="150.80" y1="457.08" x2="153.40" y2="457.08" stroke="#f5d7a8" stroke-width="0.6" />
<line x1="150.80" y1="467.08" x2="153.40" y2="467.08" stroke="#f5d7a8" stroke-width="0.6" />
<path d="M150.20,460.18 L154.00,463.98 M154.00,460.18 L150.20,463.98" stroke="#f5d7a8" stroke-width="0.8"/>
<line x1="165.20" y1="451.54" x2="165.20" y2="457.54" stroke="#f5d7a8" stroke-width="0.6" />
<line x1="163.90" y1="451.54" x2="166.50" y2="451.54" stroke="#f5d7a8" stroke-width="0.6" />
<line x1="163.90" y1="457.54" x2="166.50" y2="457.54" stroke="#f5d7a8" stroke-width="0.6" />
<path d="M163.30,452.64 L167.10,456.44 M167.10,452.64 L163.30,456.44" stroke="#f5d7a8" stroke-width="0.8"/>
<line x1="60.40" y1="499.14" x2="60.40" y2="504.14" stroke="#f0a860" stroke-width="0.6" />
<line x1="59.10" y1="499.14" x2="61.70" y2="499.14" stroke="#f0a860" stroke-width="0.6" />
<line x1="59.10" y1="504.14" x2="61.70" y2="504.14" stroke="#f0a860" stroke-width="0.6" />
<path d="M58.12,501.64 L62.68,501.64 M60.40,499.36 L60.40,503.92" stroke="#f0a860" stroke-width="0.8"/>
<line x1="73.50" y1="503.54" x2="73.50" y2="508.54" stroke="#f0a860" stroke-width="0.6" />
<line x1="72.20" y1="503.54" x2="74.80" y2="503.54" stroke="#f0a860" stroke-width="0.6" />
<line x1="72.20" y1="508.54" x2="74.80" y2="508.54" stroke="#f0a860" stroke-width="0.6" />
<path d="M71.22,506.04 L75.78,506.04 M73.50,503.76 L73.50,508.32" stroke="#f0a860" stroke-width="0.8"/>
<line x1="86.60" y1="503.54" x2="86.60" y2="508.54" stroke="#f0a860" stroke-width="0.6" />
<line x1="85.30" y1="503.54" x2="87.90" y2="503.54" stroke="#f0a860" stroke-width="0.6" />
<line x1="85.30" y1="508.54" x2="87.90" y2="508.54" stroke="#f0a860" stroke-width="0.6" />
<path d="M84.32,506.04 L88.88,506.04 M86.60,503.76 L86.60,508.32" stroke="#f0a860" stroke-width="0.8"/>
<line x1="99.70" y1="506.05" x2="99.70" y2="511.05" stroke="#f0a860" stroke-width="0.6" />
<line x1="98.40" y1="506.05" x2="101.00" y2="506.05" stroke="#f0a860" stroke-width="0.6" />
<line x1="98.40" y1="511.05" x2="101.00" y2="511.05" stroke="#f0a860" stroke-width="0.6" />
<path d="M97.42,508.55 L101.98,508.55 M99.70,506.27 L99.70,510.83" stroke="#f0a860" stroke-width="0.8"/>
<line x1="112.80" y1="498.02" x2="112.80" y2="504.02" stroke="#f0a860" stroke-width="0.6" />
<line x1="111.50" y1="498.02" x2="114.10" y2="498.02" stroke="#f0a860" stroke-width="0.6" />
<line x1="111.50" y1="504.02" x2="114.10" y2="504.02" stroke="#f0a860" stroke-width="0.6" />
<path d="M110.52,501.02 L115.08,501.02 M112.80,498.74 L112.80,503.30" stroke="#f0a860" stroke-width="0.8"/>
<line x1="125.90" y1="476.92" x2="125.90" y2="484.92" stroke="#f0a860" stroke-width="0.6" />
<line x1="124.60" y1="476.92" x2="127.20" y2="476.92" stroke="#f0a860" stroke-width="0.6" />
<line x1="124.60" y1="484.92" x2="127.20" y2="484.92" stroke="#f0a860" stroke-width="0.6" />
<path d="M123.62,480.92 L128.18,480.92 M125.90,478.64 L125.90,483.20" stroke="#f0a860" stroke-width="0.8"/>
<line x1="139.00" y1="448.29" x2="139.00" y2="458.29" stroke="#f0a860" stroke-width="0.6" />
<line x1="137.70" y1="448.29" x2="140.30" y2="448.29" stroke="#f0a860" stroke-width="0.6" />
<line x1="137.70" y1="458.29" x2="140.30" y2="458.29" stroke="#f0a860" stroke-width="0.6" />
<path d="M136.72,453.29 L141.28,453.29 M139.00,451.01 L139.00,455.57" stroke="#f0a860" stroke-width="0.8"/>
<line x1="152.10" y1="429.19" x2="152.10" y2="437.19" stroke="#f0a860" stroke-width="0.6" />
<line x1="150.80" y1="429.19" x2="153.40" y2="429.19" stroke="#f0a860" stroke-width="0.6" />
<line x1="150.80" y1="437.19" x2="153.40" y2="437.19" stroke="#f0a860" stroke-width="0.6" />
<path d="M149.82,433.19 L154.38,433.19 M152.10,430.91 L152.10,435.47" stroke="#f0a860" stroke-width="0.8"/>
<line x1="165.20" y1="409.11" x2="165.20" y2="422.11" stroke="#f0a860" stroke-width="0.6" />
<line x1="163.90" y1="409.11" x2="166.50" y2="409.11" stroke="#f0a860" stroke-width="0.6" />
<line x1="163.90" y1="422.11" x2="166.50" y2="422.11" stroke="#f0a860" stroke-width="0.6" />
<path d="M162.92,415.61 L167.48,415.61 M165.20,413.33 L165.20,417.89" stroke="#f0a860" stroke-width="0.8"/>
<line x1="60.40" y1="517.36" x2="60.40" y2="522.36" stroke="#e0522c" stroke-width="0.6" />
<line x1="59.10" y1="517.36" x2="61.70" y2="517.36" stroke="#e0522c" stroke-width="0.6" />
<line x1="59.10" y1="522.36" x2="61.70" y2="522.36" stroke="#e0522c" stroke-width="0.6" />
<rect x="58.50" y="517.96" width="3.80" height="3.80" fill="#e0522c" />
<line x1="73.50" y1="511.08" x2="73.50" y2="516.08" stroke="#e0522c" stroke-width="0.6" />
<line x1="72.20" y1="511.08" x2="74.80" y2="511.08" stroke="#e0522c" stroke-width="0.6" />
<line x1="72.20" y1="516.08" x2="74.80" y2="516.08" stroke="#e0522c" stroke-width="0.6" />
<rect x="71.60" y="511.68" width="3.80" height="3.80" fill="#e0522c" />
<line x1="86.60" y1="514.47" x2="86.60" y2="519.47" stroke="#e0522c" stroke-width="0.6" />
<line x1="85.30" y1="514.47" x2="87.90" y2="514.47" stroke="#e0522c" stroke-width="0.6" />
<line x1="85.30" y1="519.47" x2="87.90" y2="519.47" stroke="#e0522c" stroke-width="0.6" />
<rect x="84.70" y="515.07" width="3.80" height="3.80" fill="#e0522c" />
<line x1="99.70" y1="518.11" x2="99.70" y2="523.11" stroke="#e0522c" stroke-width="0.6" />
<line x1="98.40" y1="518.11" x2="101.00" y2="518.11" stroke="#e0522c" stroke-width="0.6" />
<line x1="98.40" y1="523.11" x2="101.00" y2="523.11" stroke="#e0522c" stroke-width="0.6" />
<rect x="97.80" y="518.71" width="3.80" height="3.80" fill="#e0522c" />
<line x1="112.80" y1="503.54" x2="112.80" y2="508.54" stroke="#e0522c" stroke-width="0.6" />
<line x1="111.50" y1="503.54" x2="114.10" y2="503.54" stroke="#e0522c" stroke-width="0.6" />
<line x1="111.50" y1="508.54" x2="114.10" y2="508.54" stroke="#e0522c" stroke-width="0.6" />
<rect x="110.90" y="504.14" width="3.80" height="3.80" fill="#e0522c" />
<line x1="125.90" y1="479.68" x2="125.90" y2="484.68" stroke="#e0522c" stroke-width="0.6" />
<line x1="124.60" y1="479.68" x2="127.20" y2="479.68" stroke="#e0522c" stroke-width="0.6" />
<line x1="124.60" y1="484.68" x2="127.20" y2="484.68" stroke="#e0522c" stroke-width="0.6" />
<rect x="124.00" y="480.28" width="3.80" height="3.80" fill="#e0522c" />
<line x1="139.00" y1="462.09" x2="139.00" y2="467.09" stroke="#e0522c" stroke-width="0.6" />
<line x1="137.70" y1="462.09" x2="140.30" y2="462.09" stroke="#e0522c" stroke-width="0.6" />
<line x1="137.70" y1="467.09" x2="140.30" y2="467.09" stroke="#e0522c" stroke-width="0.6" />
<rect x="137.10" y="462.69" width="3.80" height="3.80" fill="#e0522c" />
<line x1="152.10" y1="453.30" x2="152.10" y2="458.30" stroke="#e0522c" stroke-width="0.6" />
<line x1="150.80" y1="453.30" x2="153.40" y2="453.30" stroke="#e0522c" stroke-width="0.6" />
<line x1="150.80" y1="458.30" x2="153.40" y2="458.30" stroke="#e0522c" stroke-width="0.6" />
<rect x="150.20" y="453.90" width="3.80" height="3.80" fill="#e0522c" />
<line x1="165.20" y1="445.76" x2="165.20" y2="450.76" stroke="#e0522c" stroke-width="0.6" />
<line x1="163.90" y1="445.76" x2="166.50" y2="445.76" stroke="#e0522c" stroke-width="0.6" />
<line x1="163.90" y1="450.76" x2="166.50" y2="450.76" stroke="#e0522c" stroke-width="0.6" />
<rect x="163.30" y="446.36" width="3.80" height="3.80" fill="#e0522c" />
<line x1="60.40" y1="508.31" x2="60.40" y2="513.31" stroke="#9ab83a" stroke-width="0.6" />
<line x1="59.10" y1="508.31" x2="61.70" y2="508.31" stroke="#9ab83a" stroke-width="0.6" />
<line x1="59.10" y1="513.31" x2="61.70" y2="513.31" stroke="#9ab83a" stroke-width="0.6" />
<path d="M58.12,512.71 L62.68,512.71 L60.40,508.53 Z" fill="#9ab83a"/>
<line x1="73.50" y1="511.08" x2="73.50" y2="516.08" stroke="#9ab83a" stroke-width="0.6" />
<line x1="72.20" y1="511.08" x2="74.80" y2="511.08" stroke="#9ab83a" stroke-width="0.6" />
<line x1="72.20" y1="516.08" x2="74.80" y2="516.08" stroke="#9ab83a" stroke-width="0.6" />
<path d="M71.22,515.48 L75.78,515.48 L73.50,511.30 Z" fill="#9ab83a"/>
<line x1="86.60" y1="513.59" x2="86.60" y2="518.59" stroke="#9ab83a" stroke-width="0.6" />
<line x1="85.30" y1="513.59" x2="87.90" y2="513.59" stroke="#9ab83a" stroke-width="0.6" />
<line x1="85.30" y1="518.59" x2="87.90" y2="518.59" stroke="#9ab83a" stroke-width="0.6" />
<path d="M84.32,517.99 L88.88,517.99 L86.60,513.81 Z" fill="#9ab83a"/>
<line x1="99.70" y1="507.68" x2="99.70" y2="512.68" stroke="#9ab83a" stroke-width="0.6" />
<line x1="98.40" y1="507.68" x2="101.00" y2="507.68" stroke="#9ab83a" stroke-width="0.6" />
<line x1="98.40" y1="512.68" x2="101.00" y2="512.68" stroke="#9ab83a" stroke-width="0.6" />
<path d="M97.42,512.08 L101.98,512.08 L99.70,507.90 Z" fill="#9ab83a"/>
<line x1="112.80" y1="493.49" x2="112.80" y2="498.49" stroke="#9ab83a" stroke-width="0.6" />
<line x1="111.50" y1="493.49" x2="114.10" y2="493.49" stroke="#9ab83a" stroke-width="0.6" />
<line x1="111.50" y1="498.49" x2="114.10" y2="498.49" stroke="#9ab83a" stroke-width="0.6" />
<path d="M110.52,497.89 L115.08,497.89 L112.80,493.71 Z" fill="#9ab83a"/>
<line x1="125.90" y1="470.88" x2="125.90" y2="475.88" stroke="#9ab83a" stroke-width="0.6" />
<line x1="124.60" y1="470.88" x2="127.20" y2="470.88" stroke="#9ab83a" stroke-width="0.6" />
<line x1="124.60" y1="475.88" x2="127.20" y2="475.88" stroke="#9ab83a" stroke-width="0.6" />
<path d="M123.62,475.28 L128.18,475.28 L125.90,471.10 Z" fill="#9ab83a"/>
<line x1="139.00" y1="460.84" x2="139.00" y2="465.84" stroke="#9ab83a" stroke-width="0.6" />
<line x1="137.70" y1="460.84" x2="140.30" y2="460.84" stroke="#9ab83a" stroke-width="0.6" />
<line x1="137.70" y1="465.84" x2="140.30" y2="465.84" stroke="#9ab83a" stroke-width="0.6" />
<path d="M136.72,465.24 L141.28,465.24 L139.00,461.06 Z" fill="#9ab83a"/>
<line x1="152.10" y1="458.32" x2="152.10" y2="463.32" stroke="#9ab83a" stroke-width="0.6" />
<line x1="150.80" y1="458.32" x2="153.40" y2="458.32" stroke="#9ab83a" stroke-width="0.6" />
<line x1="150.80" y1="463.32" x2="153.40" y2="463.32" stroke="#9ab83a" stroke-width="0.6" />
<path d="M149.82,462.72 L154.38,462.72 L152.10,458.54 Z" fill="#9ab83a"/>
<line x1="165.20" y1="457.07" x2="165.20" y2="462.07" stroke="#9ab83a" stroke-width="0.6" />
<line x1="163.90" y1="457.07" x2="166.50" y2="457.07" stroke="#9ab83a" stroke-width="0.6" />
<line x1="163.90" y1="462.07" x2="166.50" y2="462.07" stroke="#9ab83a" stroke-width="0.6" />
<path d="M162.92,461.47 L167.48,461.47 L165.20,457.29 Z" fill="#9ab83a"/>
<line x1="60.40" y1="514.84" x2="60.40" y2="519.84" stroke="#2e5a58" stroke-width="0.6" />
<line x1="59.10" y1="514.84" x2="61.70" y2="514.84" stroke="#2e5a58" stroke-width="0.6" />
<line x1="59.10" y1="519.84" x2="61.70" y2="519.84" stroke="#2e5a58" stroke-width="0.6" />
<path d="M58.12,515.44 L62.68,515.44 L60.40,519.62 Z" fill="#2e5a58"/>
<line x1="73.50" y1="512.33" x2="73.50" y2="517.33" stroke="#2e5a58" stroke-width="0.6" />
<line x1="72.20" y1="512.33" x2="74.80" y2="512.33" stroke="#2e5a58" stroke-width="0.6" />
<line x1="72.20" y1="517.33" x2="74.80" y2="517.33" stroke="#2e5a58" stroke-width="0.6" />
<path d="M71.22,512.93 L75.78,512.93 L73.50,517.11 Z" fill="#2e5a58"/>
<line x1="86.60" y1="512.33" x2="86.60" y2="517.33" stroke="#2e5a58" stroke-width="0.6" />
<line x1="85.30" y1="512.33" x2="87.90" y2="512.33" stroke="#2e5a58" stroke-width="0.6" />
<line x1="85.30" y1="517.33" x2="87.90" y2="517.33" stroke="#2e5a58" stroke-width="0.6" />
<path d="M84.32,512.93 L88.88,512.93 L86.60,517.11 Z" fill="#2e5a58"/>
<line x1="99.70" y1="507.31" x2="99.70" y2="512.31" stroke="#2e5a58" stroke-width="0.6" />
<line x1="98.40" y1="507.31" x2="101.00" y2="507.31" stroke="#2e5a58" stroke-width="0.6" />
<line x1="98.40" y1="512.31" x2="101.00" y2="512.31" stroke="#2e5a58" stroke-width="0.6" />
<path d="M97.42,507.91 L101.98,507.91 L99.70,512.09 Z" fill="#2e5a58"/>
<line x1="112.80" y1="490.98" x2="112.80" y2="495.98" stroke="#2e5a58" stroke-width="0.6" />
<line x1="111.50" y1="490.98" x2="114.10" y2="490.98" stroke="#2e5a58" stroke-width="0.6" />
<line x1="111.50" y1="495.98" x2="114.10" y2="495.98" stroke="#2e5a58" stroke-width="0.6" />
<path d="M110.52,491.58 L115.08,491.58 L112.80,495.76 Z" fill="#2e5a58"/>
<line x1="125.90" y1="468.37" x2="125.90" y2="473.37" stroke="#2e5a58" stroke-width="0.6" />
<line x1="124.60" y1="468.37" x2="127.20" y2="468.37" stroke="#2e5a58" stroke-width="0.6" />
<line x1="124.60" y1="473.37" x2="127.20" y2="473.37" stroke="#2e5a58" stroke-width="0.6" />
<path d="M123.62,468.97 L128.18,468.97 L125.90,473.15 Z" fill="#2e5a58"/>
<line x1="139.00" y1="457.07" x2="139.00" y2="462.07" stroke="#2e5a58" stroke-width="0.6" />
<line x1="137.70" y1="457.07" x2="140.30" y2="457.07" stroke="#2e5a58" stroke-width="0.6" />
<line x1="137.70" y1="462.07" x2="140.30" y2="462.07" stroke="#2e5a58" stroke-width="0.6" />
<path d="M136.72,457.67 L141.28,457.67 L139.00,461.85 Z" fill="#2e5a58"/>
<line x1="152.10" y1="450.79" x2="152.10" y2="455.79" stroke="#2e5a58" stroke-width="0.6" />
<line x1="150.80" y1="450.79" x2="153.40" y2="450.79" stroke="#2e5a58" stroke-width="0.6" />
<line x1="150.80" y1="455.79" x2="153.40" y2="455.79" stroke="#2e5a58" stroke-width="0.6" />
<path d="M149.82,451.39 L154.38,451.39 L152.10,455.57 Z" fill="#2e5a58"/>
<line x1="165.20" y1="448.28" x2="165.20" y2="453.28" stroke="#2e5a58" stroke-width="0.6" />
<line x1="163.90" y1="448.28" x2="166.50" y2="448.28" stroke="#2e5a58" stroke-width="0.6" />
<line x1="163.90" y1="453.28" x2="166.50" y2="453.28" stroke="#2e5a58" stroke-width="0.6" />
<path d="M162.92,448.88 L167.48,448.88 L165.20,453.06 Z" fill="#2e5a58"/>
<line x1="60.40" y1="516.10" x2="60.40" y2="521.10" stroke="#201848" stroke-width="0.6" />
<line x1="59.10" y1="516.10" x2="61.70" y2="516.10" stroke="#201848" stroke-width="0.6" />
<line x1="59.10" y1="521.10" x2="61.70" y2="521.10" stroke="#201848" stroke-width="0.6" />
<circle cx="60.40" cy="518.60" r="1.99" fill="#201848" />
<line x1="73.50" y1="514.84" x2="73.50" y2="519.84" stroke="#201848" stroke-width="0.6" />
<line x1="72.20" y1="514.84" x2="74.80" y2="514.84" stroke="#201848" stroke-width="0.6" />
<line x1="72.20" y1="519.84" x2="74.80" y2="519.84" stroke="#201848" stroke-width="0.6" />
<circle cx="73.50" cy="517.34" r="1.99" fill="#201848" />
<line x1="86.60" y1="519.87" x2="86.60" y2="524.87" stroke="#201848" stroke-width="0.6" />
<line x1="85.30" y1="519.87" x2="87.90" y2="519.87" stroke="#201848" stroke-width="0.6" />
<line x1="85.30" y1="524.87" x2="87.90" y2="524.87" stroke="#201848" stroke-width="0.6" />
<circle cx="86.60" cy="522.37" r="1.99" fill="#201848" />
<line x1="99.70" y1="502.28" x2="99.70" y2="507.28" stroke="#201848" stroke-width="0.6" />
<line x1="98.40" y1="502.28" x2="101.00" y2="502.28" stroke="#201848" stroke-width="0.6" />
<line x1="98.40" y1="507.28" x2="101.00" y2="507.28" stroke="#201848" stroke-width="0.6" />
<circle cx="99.70" cy="504.78" r="1.99" fill="#201848" />
<line x1="112.80" y1="487.21" x2="112.80" y2="492.21" stroke="#201848" stroke-width="0.6" />
<line x1="111.50" y1="487.21" x2="114.10" y2="487.21" stroke="#201848" stroke-width="0.6" />
<line x1="111.50" y1="492.21" x2="114.10" y2="492.21" stroke="#201848" stroke-width="0.6" />
<circle cx="112.80" cy="489.71" r="1.99" fill="#201848" />
<line x1="125.90" y1="470.88" x2="125.90" y2="475.88" stroke="#201848" stroke-width="0.6" />
<line x1="124.60" y1="470.88" x2="127.20" y2="470.88" stroke="#201848" stroke-width="0.6" />
<line x1="124.60" y1="475.88" x2="127.20" y2="475.88" stroke="#201848" stroke-width="0.6" />
<circle cx="125.90" cy="473.38" r="1.99" fill="#201848" />
<line x1="139.00" y1="453.30" x2="139.00" y2="458.30" stroke="#201848" stroke-width="0.6" />
<line x1="137.70" y1="453.30" x2="140.30" y2="453.30" stroke="#201848" stroke-width="0.6" />
<line x1="137.70" y1="458.30" x2="140.30" y2="458.30" stroke="#201848" stroke-width="0.6" />
<circle cx="139.00" cy="455.80" r="1.99" fill="#201848" />
<line x1="152.10" y1="443.25" x2="152.10" y2="448.25" stroke="#201848" stroke-width="0.6" />
<line x1="150.80" y1="443.25" x2="153.40" y2="443.25" stroke="#201848" stroke-width="0.6" />
<line x1="150.80" y1="448.25" x2="153.40" y2="448.25" stroke="#201848" stroke-width="0.6" />
<circle cx="152.10" cy="445.75" r="1.99" fill="#201848" />
<line x1="165.20" y1="442.00" x2="165.20" y2="447.00" stroke="#201848" stroke-width="0.6" />
<line x1="163.90" y1="442.00" x2="166.50" y2="442.00" stroke="#201848" stroke-width="0.6" />
<line x1="163.90" y1="447.00" x2="166.50" y2="447.00" stroke="#201848" stroke-width="0.6" />
<circle cx="165.20" cy="444.50" r="1.99" fill="#201848" />
<line x1="60.40" y1="516.10" x2="60.40" y2="521.10" stroke="#7a4fa8" stroke-width="0.6" />
<line x1="59.10" y1="516.10" x2="61.70" y2="516.10" stroke="#7a4fa8" stroke-width="0.6" />
<line x1="59.10" y1="521.10" x2="61.70" y2="521.10" stroke="#7a4fa8" stroke-width="0.6" />
<circle cx="60.40" cy="518.60" r="1.99" fill="#7a4fa8" />
<line x1="73.50" y1="514.84" x2="73.50" y2="519.84" stroke="#7a4fa8" stroke-width="0.6" />
<line x1="72.20" y1="514.84" x2="74.80" y2="514.84" stroke="#7a4fa8" stroke-width="0.6" />
<line x1="72.20" y1="519.84" x2="74.80" y2="519.84" stroke="#7a4fa8" stroke-width="0.6" />
<circle cx="73.50" cy="517.34" r="1.99" fill="#7a4fa8" />
<line x1="86.60" y1="510.45" x2="86.60" y2="515.45" stroke="#7a4fa8" stroke-width="0.6" />
<line x1="85.30" y1="510.45" x2="87.90" y2="510.45" stroke="#7a4fa8" stroke-width="0.6" />
<line x1="85.30" y1="515.45" x2="87.90" y2="515.45" stroke="#7a4fa8" stroke-width="0.6" />
<circle cx="86.60" cy="512.95" r="1.99" fill="#7a4fa8" />
<line x1="99.70" y1="508.56" x2="99.70" y2="513.56" stroke="#7a4fa8" stroke-width="0.6" />
<line x1="98.40" y1="508.56" x2="101.00" y2="508.56" stroke="#7a4fa8" stroke-width="0.6" />
<line x1="98.40" y1="513.56" x2="101.00" y2="513.56" stroke="#7a4fa8" stroke-width="0.6" />
<circle cx="99.70" cy="511.06" r="1.99" fill="#7a4fa8" />
<line x1="112.80" y1="485.96" x2="112.80" y2="490.96" stroke="#7a4fa8" stroke-width="0.6" />
<line x1="111.50" y1="485.96" x2="114.10" y2="485.96" stroke="#7a4fa8" stroke-width="0.6" />
<line x1="111.50" y1="490.96" x2="114.10" y2="490.96" stroke="#7a4fa8" stroke-width="0.6" />
<circle cx="112.80" cy="488.46" r="1.99" fill="#7a4fa8" />
<line x1="125.90" y1="468.37" x2="125.90" y2="473.37" stroke="#7a4fa8" stroke-width="0.6" />
<line x1="124.60" y1="468.37" x2="127.20" y2="468.37" stroke="#7a4fa8" stroke-width="0.6" />
<line x1="124.60" y1="473.37" x2="127.20" y2="473.37" stroke="#7a4fa8" stroke-width="0.6" />
<circle cx="125.90" cy="470.87" r="1.99" fill="#7a4fa8" />
<line x1="139.00" y1="450.79" x2="139.00" y2="455.79" stroke="#7a4fa8" stroke-width="0.6" />
<line x1="137.70" y1="450.79" x2="140.30" y2="450.79" stroke="#7a4fa8" stroke-width="0.6" />
<line x1="137.70" y1="455.79" x2="140.30" y2="455.79" stroke="#7a4fa8" stroke-width="0.6" />
<circle cx="139.00" cy="453.29" r="1.99" fill="#7a4fa8" />
<line x1="152.10" y1="443.25" x2="152.10" y2="448.25" stroke="#7a4fa8" stroke-width="0.6" />
<line x1="150.80" y1="443.25" x2="153.40" y2="443.25" stroke="#7a4fa8" stroke-width="0.6" />
<line x1="150.80" y1="448.25" x2="153.40" y2="448.25" stroke="#7a4fa8" stroke-width="0.6" />
<circle cx="152.10" cy="445.75" r="1.99" fill="#7a4fa8" />
<line x1="165.20" y1="439.48" x2="165.20" y2="444.48" stroke="#7a4fa8" stroke-width="0.6" />
<line x1="163.90" y1="439.48" x2="166.50" y2="439.48" stroke="#7a4fa8" stroke-width="0.6" />
<line x1="163.90" y1="444.48" x2="166.50" y2="444.48" stroke="#7a4fa8" stroke-width="0.6" />
<circle cx="165.20" cy="441.98" r="1.99" fill="#7a4fa8" />
<line x1="60.40" y1="522.13" x2="60.40" y2="527.13" stroke="#2ab0c8" stroke-width="0.6" />
<line x1="59.10" y1="522.13" x2="61.70" y2="522.13" stroke="#2ab0c8" stroke-width="0.6" />
<line x1="59.10" y1="527.13" x2="61.70" y2="527.13" stroke="#2ab0c8" stroke-width="0.6" />
<circle cx="60.40" cy="524.63" r="1.99" fill="#2ab0c8" />
<line x1="73.50" y1="524.52" x2="73.50" y2="529.52" stroke="#2ab0c8" stroke-width="0.6" />
<line x1="72.20" y1="524.52" x2="74.80" y2="524.52" stroke="#2ab0c8" stroke-width="0.6" />
<line x1="72.20" y1="529.52" x2="74.80" y2="529.52" stroke="#2ab0c8" stroke-width="0.6" />
<circle cx="73.50" cy="527.02" r="1.99" fill="#2ab0c8" />
<line x1="86.60" y1="524.52" x2="86.60" y2="529.52" stroke="#2ab0c8" stroke-width="0.6" />
<line x1="85.30" y1="524.52" x2="87.90" y2="524.52" stroke="#2ab0c8" stroke-width="0.6" />
<line x1="85.30" y1="529.52" x2="87.90" y2="529.52" stroke="#2ab0c8" stroke-width="0.6" />
<circle cx="86.60" cy="527.02" r="1.99" fill="#2ab0c8" />
<line x1="99.70" y1="524.52" x2="99.70" y2="529.52" stroke="#2ab0c8" stroke-width="0.6" />
<line x1="98.40" y1="524.52" x2="101.00" y2="524.52" stroke="#2ab0c8" stroke-width="0.6" />
<line x1="98.40" y1="529.52" x2="101.00" y2="529.52" stroke="#2ab0c8" stroke-width="0.6" />
<circle cx="99.70" cy="527.02" r="1.99" fill="#2ab0c8" />
<line x1="112.80" y1="470.88" x2="112.80" y2="475.88" stroke="#2ab0c8" stroke-width="0.6" />
<line x1="111.50" y1="470.88" x2="114.10" y2="470.88" stroke="#2ab0c8" stroke-width="0.6" />
<line x1="111.50" y1="475.88" x2="114.10" y2="475.88" stroke="#2ab0c8" stroke-width="0.6" />
<circle cx="112.80" cy="473.38" r="1.99" fill="#2ab0c8" />
<line x1="125.90" y1="454.56" x2="125.90" y2="459.56" stroke="#2ab0c8" stroke-width="0.6" />
<line x1="124.60" y1="454.56" x2="127.20" y2="454.56" stroke="#2ab0c8" stroke-width="0.6" />
<line x1="124.60" y1="459.56" x2="127.20" y2="459.56" stroke="#2ab0c8" stroke-width="0.6" />
<circle cx="125.90" cy="457.06" r="1.99" fill="#2ab0c8" />
<line x1="139.00" y1="452.04" x2="139.00" y2="457.04" stroke="#2ab0c8" stroke-width="0.6" />
<line x1="137.70" y1="452.04" x2="140.30" y2="452.04" stroke="#2ab0c8" stroke-width="0.6" />
<line x1="137.70" y1="457.04" x2="140.30" y2="457.04" stroke="#2ab0c8" stroke-width="0.6" />
<circle cx="139.00" cy="454.54" r="1.99" fill="#2ab0c8" />
<line x1="152.10" y1="450.79" x2="152.10" y2="455.79" stroke="#2ab0c8" stroke-width="0.6" />
<line x1="150.80" y1="450.79" x2="153.40" y2="450.79" stroke="#2ab0c8" stroke-width="0.6" />
<line x1="150.80" y1="455.79" x2="153.40" y2="455.79" stroke="#2ab0c8" stroke-width="0.6" />
<circle cx="152.10" cy="453.29" r="1.99" fill="#2ab0c8" />
<line x1="165.20" y1="453.30" x2="165.20" y2="458.30" stroke="#2ab0c8" stroke-width="0.6" />
<line x1="163.90" y1="453.30" x2="166.50" y2="453.30" stroke="#2ab0c8" stroke-width="0.6" />
<line x1="163.90" y1="458.30" x2="166.50" y2="458.30" stroke="#2ab0c8" stroke-width="0.6" />
<circle cx="165.20" cy="455.80" r="1.99" fill="#2ab0c8" />
<line x1="60.40" y1="517.36" x2="60.40" y2="522.36" stroke="#1f5f90" stroke-width="0.6" />
<line x1="59.10" y1="517.36" x2="61.70" y2="517.36" stroke="#1f5f90" stroke-width="0.6" />
<line x1="59.10" y1="522.36" x2="61.70" y2="522.36" stroke="#1f5f90" stroke-width="0.6" />
<path d="M60.40,517.39 L62.49,519.86 L60.40,522.33 L58.31,519.86 Z" fill="#1f5f90"/>
<line x1="73.50" y1="517.36" x2="73.50" y2="522.36" stroke="#1f5f90" stroke-width="0.6" />
<line x1="72.20" y1="517.36" x2="74.80" y2="517.36" stroke="#1f5f90" stroke-width="0.6" />
<line x1="72.20" y1="522.36" x2="74.80" y2="522.36" stroke="#1f5f90" stroke-width="0.6" />
<path d="M73.50,517.39 L75.59,519.86 L73.50,522.33 L71.41,519.86 Z" fill="#1f5f90"/>
<line x1="86.60" y1="517.36" x2="86.60" y2="522.36" stroke="#1f5f90" stroke-width="0.6" />
<line x1="85.30" y1="517.36" x2="87.90" y2="517.36" stroke="#1f5f90" stroke-width="0.6" />
<line x1="85.30" y1="522.36" x2="87.90" y2="522.36" stroke="#1f5f90" stroke-width="0.6" />
<path d="M86.60,517.39 L88.69,519.86 L86.60,522.33 L84.51,519.86 Z" fill="#1f5f90"/>
<line x1="99.70" y1="502.28" x2="99.70" y2="507.28" stroke="#1f5f90" stroke-width="0.6" />
<line x1="98.40" y1="502.28" x2="101.00" y2="502.28" stroke="#1f5f90" stroke-width="0.6" />
<line x1="98.40" y1="507.28" x2="101.00" y2="507.28" stroke="#1f5f90" stroke-width="0.6" />
<path d="M99.70,502.31 L101.79,504.78 L99.70,507.25 L97.61,504.78 Z" fill="#1f5f90"/>
<line x1="112.80" y1="467.12" x2="112.80" y2="472.12" stroke="#1f5f90" stroke-width="0.6" />
<line x1="111.50" y1="467.12" x2="114.10" y2="467.12" stroke="#1f5f90" stroke-width="0.6" />
<line x1="111.50" y1="472.12" x2="114.10" y2="472.12" stroke="#1f5f90" stroke-width="0.6" />
<path d="M112.80,467.15 L114.89,469.62 L112.80,472.09 L110.71,469.62 Z" fill="#1f5f90"/>
<line x1="125.90" y1="454.56" x2="125.90" y2="459.56" stroke="#1f5f90" stroke-width="0.6" />
<line x1="124.60" y1="454.56" x2="127.20" y2="454.56" stroke="#1f5f90" stroke-width="0.6" />
<line x1="124.60" y1="459.56" x2="127.20" y2="459.56" stroke="#1f5f90" stroke-width="0.6" />
<path d="M125.90,454.59 L127.99,457.06 L125.90,459.53 L123.81,457.06 Z" fill="#1f5f90"/>
<line x1="139.00" y1="445.76" x2="139.00" y2="450.76" stroke="#1f5f90" stroke-width="0.6" />
<line x1="137.70" y1="445.76" x2="140.30" y2="445.76" stroke="#1f5f90" stroke-width="0.6" />
<line x1="137.70" y1="450.76" x2="140.30" y2="450.76" stroke="#1f5f90" stroke-width="0.6" />
<path d="M139.00,445.79 L141.09,448.26 L139.00,450.73 L136.91,448.26 Z" fill="#1f5f90"/>
<line x1="152.10" y1="440.74" x2="152.10" y2="445.74" stroke="#1f5f90" stroke-width="0.6" />
<line x1="150.80" y1="440.74" x2="153.40" y2="440.74" stroke="#1f5f90" stroke-width="0.6" />
<line x1="150.80" y1="445.74" x2="153.40" y2="445.74" stroke="#1f5f90" stroke-width="0.6" />
<path d="M152.10,440.77 L154.19,443.24 L152.10,445.71 L150.01,443.24 Z" fill="#1f5f90"/>
<line x1="165.20" y1="425.67" x2="165.20" y2="430.67" stroke="#1f5f90" stroke-width="0.6" />
<line x1="163.90" y1="425.67" x2="166.50" y2="425.67" stroke="#1f5f90" stroke-width="0.6" />
<line x1="163.90" y1="430.67" x2="166.50" y2="430.67" stroke="#1f5f90" stroke-width="0.6" />
<path d="M165.20,425.70 L167.29,428.17 L165.20,430.64 L163.11,428.17 Z" fill="#1f5f90"/>
<text x="331.00" y="375.60" text-anchor="start" fill="#111" style="font-size:12.8px;font-weight:bold;stroke:#111;stroke-width:0.16px;" >G</text>
<text x="431.60" y="379.80" text-anchor="middle" fill="#222" style="font-size:9.3px;font-weight:bold;stroke:#222;stroke-width:0.16px;" ><tspan font-style="italic">In vitro</tspan> and <tspan font-style="italic">in vivo</tspan> growth</text>
<text x="431.90" y="390.60" text-anchor="middle" fill="#222" style="font-size:9.3px;font-weight:bold;stroke:#222;stroke-width:0.16px;" >inhibition correlation</text>
<line x1="364.40" y1="392.00" x2="364.40" y2="537.00" stroke="#1a1a1a" stroke-width="1.4" />
<line x1="363.80" y1="536.30" x2="510.50" y2="536.30" stroke="#1a1a1a" stroke-width="1.4" />
<line x1="360.90" y1="536.30" x2="364.40" y2="536.30" stroke="#1a1a1a" stroke-width="0.9" />
<text x="360.40" y="538.30" text-anchor="end" fill="#1a1a1a" style="font-size:5.8px;font-weight:bold;stroke:#1a1a1a;stroke-width:0.16px;" >7</text>
<line x1="360.90" y1="488.27" x2="364.40" y2="488.27" stroke="#1a1a1a" stroke-width="0.9" />
<text x="360.40" y="490.27" text-anchor="end" fill="#1a1a1a" style="font-size:5.8px;font-weight:bold;stroke:#1a1a1a;stroke-width:0.16px;" >8</text>
<line x1="360.90" y1="440.24" x2="364.40" y2="440.24" stroke="#1a1a1a" stroke-width="0.9" />
<text x="360.40" y="442.24" text-anchor="end" fill="#1a1a1a" style="font-size:5.8px;font-weight:bold;stroke:#1a1a1a;stroke-width:0.16px;" >9</text>
<line x1="360.90" y1="392.21" x2="364.40" y2="392.21" stroke="#1a1a1a" stroke-width="0.9" />
<text x="360.40" y="394.21" text-anchor="end" fill="#1a1a1a" style="font-size:5.8px;font-weight:bold;stroke:#1a1a1a;stroke-width:0.16px;" >10</text>
<line x1="365.30" y1="536.30" x2="365.30" y2="539.20" stroke="#1a1a1a" stroke-width="0.8" />
<text x="365.30" y="547.00" text-anchor="middle" fill="#1a1a1a" style="font-size:5.5px;font-weight:bold;stroke:#1a1a1a;stroke-width:0.16px;" >0</text>
<line x1="393.82" y1="536.30" x2="393.82" y2="539.20" stroke="#1a1a1a" stroke-width="0.8" />
<text x="393.82" y="547.00" text-anchor="middle" fill="#1a1a1a" style="font-size:5.5px;font-weight:bold;stroke:#1a1a1a;stroke-width:0.16px;" >50</text>
<line x1="422.35" y1="536.30" x2="422.35" y2="539.20" stroke="#1a1a1a" stroke-width="0.8" />
<text x="422.35" y="547.00" text-anchor="middle" fill="#1a1a1a" style="font-size:5.5px;font-weight:bold;stroke:#1a1a1a;stroke-width:0.16px;" >100</text>
<line x1="450.88" y1="536.30" x2="450.88" y2="539.20" stroke="#1a1a1a" stroke-width="0.8" />
<text x="450.88" y="547.00" text-anchor="middle" fill="#1a1a1a" style="font-size:5.5px;font-weight:bold;stroke:#1a1a1a;stroke-width:0.16px;" >150</text>
<line x1="479.40" y1="536.30" x2="479.40" y2="539.20" stroke="#1a1a1a" stroke-width="0.8" />
<text x="479.40" y="547.00" text-anchor="middle" fill="#1a1a1a" style="font-size:5.5px;font-weight:bold;stroke:#1a1a1a;stroke-width:0.16px;" >200</text>
<line x1="507.93" y1="536.30" x2="507.93" y2="539.20" stroke="#1a1a1a" stroke-width="0.8" />
<text x="507.93" y="547.00" text-anchor="middle" fill="#1a1a1a" style="font-size:5.5px;font-weight:bold;stroke:#1a1a1a;stroke-width:0.16px;" >250</text>
<text x="364.40" y="557.70" text-anchor="start" fill="#111" style="font-size:6.4px;font-weight:bold;stroke:#111;stroke-width:0.16px;" >JIMT-1 CDX <tspan font-style="italic">in vivo</tspan> tumor growth inhibition (%)</text>
<text transform="translate(346.00,464.20) rotate(-90)" text-anchor="middle" fill="#111" style="font-size:6.5px;font-weight:bold;stroke:#111;stroke-width:0.16px;" >JIMT-1 spheroids <tspan font-style="italic">in vitro</tspan> pIC50</text>
<line x1="368.60" y1="509.80" x2="489.70" y2="425.80" stroke="#111" stroke-width="1.1" />
<text x="409.80" y="445.00" text-anchor="start" fill="#111" style="font-size:7.8px;font-weight:bold;stroke:#111;stroke-width:0.16px;" ><tspan font-style="italic">R</tspan><tspan font-size="5.0" dy="-3.0">2</tspan><tspan dy="3.0"> = 0.84</tspan></text>
<circle cx="369.40" cy="494.10" r="2.7" fill="#f8dab0" />
<circle cx="430.40" cy="488.00" r="2.7" fill="#e86040" />
<circle cx="432.00" cy="474.70" r="2.7" fill="#2a6048" />
<circle cx="422.70" cy="471.50" r="2.7" fill="#9050b0" />
<circle cx="445.70" cy="459.80" r="2.7" fill="#a0c030" />
<circle cx="486.50" cy="415.70" r="2.7" fill="#3cc0d0" />
<circle cx="489.00" cy="421.00" r="2.7" fill="#1f5f8a" />
</g>
</svg></body></html>
